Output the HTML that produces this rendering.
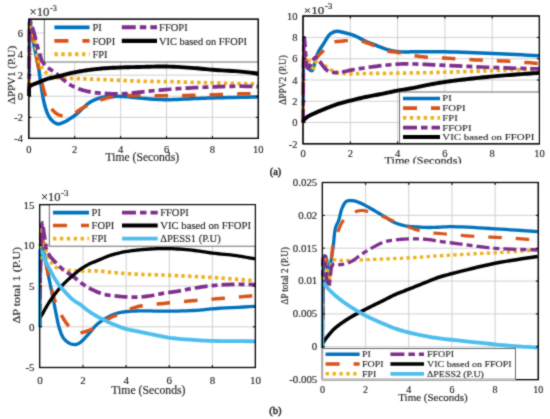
<!DOCTYPE html>
<html><head><meta charset="utf-8"><style>
html,body{margin:0;padding:0;background:#fff;}
body{width:550px;height:419px;overflow:hidden;}
svg{display:block;}
text{font-family:"Liberation Serif",serif;fill:#262626;stroke:#262626;stroke-width:0.15px;}
</style></head><body>
<svg width="550" height="419" viewBox="0 0 550 419">
<defs><filter id="bl" x="0" y="0" width="550" height="419" filterUnits="userSpaceOnUse" color-interpolation-filters="sRGB"><feConvolveMatrix order="3" kernelMatrix="1 2 1 2 12 2 1 2 1" divisor="24" edgeMode="duplicate"/></filter><clipPath id="cA"><rect x="27.3" y="17.7" width="232.5" height="122.2"/></clipPath><clipPath id="cB"><rect x="301.5" y="14.5" width="239.39999999999998" height="130.8"/></clipPath><clipPath id="cC"><rect x="38.1" y="203.1" width="218.8" height="165.9"/></clipPath><clipPath id="cD"><rect x="320.9" y="181.0" width="218.89999999999998" height="200.10000000000002"/></clipPath></defs>
<g filter="url(#bl)">
<rect width="550" height="419" fill="#fff"/>
<line x1="74.70" y1="19.2" x2="74.70" y2="138.4" stroke="#d0d0d0" stroke-width="1"/>
<line x1="120.60" y1="19.2" x2="120.60" y2="138.4" stroke="#d0d0d0" stroke-width="1"/>
<line x1="166.50" y1="19.2" x2="166.50" y2="138.4" stroke="#d0d0d0" stroke-width="1"/>
<line x1="212.40" y1="19.2" x2="212.40" y2="138.4" stroke="#d0d0d0" stroke-width="1"/>
<line x1="28.8" y1="117.32" x2="258.3" y2="117.32" stroke="#d0d0d0" stroke-width="1"/>
<line x1="28.8" y1="96.24" x2="258.3" y2="96.24" stroke="#d0d0d0" stroke-width="1"/>
<line x1="28.8" y1="75.16" x2="258.3" y2="75.16" stroke="#d0d0d0" stroke-width="1"/>
<line x1="28.8" y1="54.08" x2="258.3" y2="54.08" stroke="#d0d0d0" stroke-width="1"/>
<line x1="28.8" y1="33.00" x2="258.3" y2="33.00" stroke="#d0d0d0" stroke-width="1"/>
<path d="M29.00,96.00 L29.04,91.51 L29.07,87.04 L29.10,82.57 L29.14,78.10 L29.17,73.62 L29.21,69.12 L29.25,64.58 L29.30,60.00 L29.33,54.61 L29.33,48.41 L29.32,41.87 L29.32,35.45 L29.35,29.63 L29.43,24.89 L29.57,21.69 L29.80,20.50 L29.92,20.67 L30.06,21.15 L30.20,21.87 L30.35,22.79 L30.51,23.82 L30.67,24.91 L30.84,25.99 L31.00,27.00 L31.23,28.41 L31.46,29.92 L31.69,31.52 L31.93,33.18 L32.18,34.89 L32.44,36.61 L32.71,38.32 L33.00,40.00 L33.32,41.76 L33.67,43.53 L34.03,45.32 L34.41,47.11 L34.78,48.91 L35.16,50.71 L35.54,52.51 L35.90,54.30 L36.26,56.10 L36.63,57.91 L37.00,59.73 L37.37,61.55 L37.73,63.35 L38.08,65.13 L38.40,66.89 L38.70,68.60 L38.94,70.09 L39.16,71.55 L39.36,73.00 L39.55,74.42 L39.74,75.83 L39.92,77.23 L40.11,78.62 L40.30,80.00 L40.49,81.28 L40.67,82.55 L40.86,83.81 L41.04,85.06 L41.23,86.30 L41.42,87.53 L41.61,88.77 L41.80,90.00 L41.99,91.21 L42.18,92.42 L42.37,93.63 L42.56,94.83 L42.76,96.03 L42.96,97.21 L43.17,98.37 L43.40,99.50 L43.61,100.51 L43.82,101.49 L44.04,102.46 L44.27,103.42 L44.51,104.36 L44.75,105.31 L45.02,106.25 L45.30,107.20 L45.60,108.17 L45.90,109.15 L46.22,110.13 L46.55,111.10 L46.90,112.07 L47.28,113.01 L47.67,113.92 L48.10,114.80 L48.51,115.59 L48.94,116.37 L49.39,117.13 L49.85,117.87 L50.34,118.58 L50.86,119.26 L51.41,119.90 L52.00,120.50 L52.62,121.06 L53.29,121.62 L53.99,122.16 L54.71,122.66 L55.45,123.10 L56.21,123.46 L56.96,123.74 L57.70,123.90 L58.40,123.94 L59.10,123.89 L59.81,123.75 L60.52,123.54 L61.24,123.29 L61.96,123.00 L62.68,122.70 L63.40,122.40 L64.23,122.04 L65.07,121.62 L65.91,121.17 L66.75,120.69 L67.59,120.18 L68.43,119.65 L69.27,119.13 L70.10,118.60 L70.95,118.06 L71.80,117.51 L72.66,116.94 L73.50,116.37 L74.34,115.77 L75.17,115.17 L75.99,114.54 L76.80,113.90 L77.60,113.21 L78.38,112.50 L79.14,111.76 L79.89,111.01 L80.64,110.25 L81.41,109.49 L82.19,108.74 L83.00,108.00 L83.88,107.22 L84.76,106.42 L85.64,105.61 L86.55,104.81 L87.48,104.03 L88.44,103.28 L89.45,102.57 L90.50,101.90 L91.73,101.21 L93.02,100.55 L94.37,99.92 L95.75,99.33 L97.16,98.79 L98.58,98.30 L100.00,97.87 L101.40,97.50 L102.74,97.22 L104.10,97.00 L105.46,96.85 L106.83,96.74 L108.19,96.66 L109.56,96.60 L110.93,96.56 L112.30,96.50 L113.64,96.44 L114.94,96.40 L116.22,96.37 L117.52,96.36 L118.84,96.37 L120.21,96.39 L121.66,96.43 L123.20,96.50 L125.57,96.65 L128.13,96.88 L130.83,97.15 L133.64,97.46 L136.50,97.78 L139.38,98.09 L142.23,98.37 L145.00,98.60 L147.68,98.80 L150.34,98.99 L152.98,99.17 L155.63,99.33 L158.30,99.47 L161.01,99.58 L163.77,99.66 L166.60,99.70 L169.96,99.68 L173.46,99.59 L177.06,99.46 L180.70,99.29 L184.32,99.10 L187.86,98.92 L191.27,98.74 L194.50,98.60 L196.90,98.50 L199.13,98.41 L201.25,98.32 L203.33,98.24 L205.45,98.15 L207.67,98.07 L210.06,97.98 L212.70,97.90 L217.37,97.77 L222.56,97.64 L228.14,97.52 L233.99,97.39 L240.00,97.27 L246.05,97.15 L252.02,97.02 L257.80,96.90" fill="none" stroke="#0072BD" stroke-width="3.5" stroke-linejoin="round" stroke-linecap="butt" clip-path="url(#cA)"/>
<path d="M29.00,96.00 L29.06,88.79 L29.10,81.29 L29.15,73.67 L29.19,66.11 L29.25,58.78 L29.31,51.87 L29.39,45.55 L29.50,40.00 L29.56,36.96 L29.61,33.81 L29.66,30.72 L29.72,27.83 L29.79,25.31 L29.89,23.31 L30.02,21.99 L30.20,21.50 L30.33,21.67 L30.48,22.14 L30.64,22.86 L30.81,23.77 L30.98,24.80 L31.16,25.89 L31.33,26.98 L31.50,28.00 L31.74,29.51 L31.99,31.19 L32.24,32.98 L32.49,34.84 L32.74,36.72 L32.99,38.57 L33.25,40.34 L33.50,42.00 L33.71,43.28 L33.91,44.50 L34.12,45.69 L34.33,46.85 L34.54,48.00 L34.75,49.15 L34.97,50.31 L35.20,51.50 L35.45,52.74 L35.70,53.98 L35.96,55.22 L36.22,56.47 L36.49,57.72 L36.76,58.98 L37.03,60.24 L37.30,61.50 L37.57,62.81 L37.85,64.13 L38.12,65.45 L38.40,66.79 L38.68,68.11 L38.95,69.43 L39.23,70.73 L39.50,72.00 L39.75,73.16 L40.00,74.31 L40.25,75.45 L40.50,76.58 L40.74,77.70 L40.99,78.81 L41.24,79.91 L41.50,81.00 L41.74,82.03 L41.99,83.05 L42.24,84.06 L42.49,85.07 L42.74,86.06 L42.99,87.05 L43.24,88.03 L43.50,89.00 L43.74,89.91 L43.99,90.81 L44.24,91.72 L44.49,92.61 L44.75,93.49 L45.00,94.35 L45.25,95.19 L45.50,96.00 L45.71,96.67 L45.92,97.32 L46.12,97.96 L46.33,98.58 L46.54,99.20 L46.75,99.80 L46.97,100.40 L47.20,101.00 L47.41,101.56 L47.62,102.10 L47.83,102.64 L48.05,103.17 L48.28,103.70 L48.53,104.23 L48.80,104.76 L49.10,105.30 L49.49,105.95 L49.91,106.61 L50.37,107.28 L50.85,107.96 L51.35,108.62 L51.88,109.27 L52.43,109.90 L53.00,110.50 L53.62,111.11 L54.26,111.73 L54.94,112.33 L55.63,112.92 L56.35,113.47 L57.09,113.97 L57.84,114.42 L58.60,114.80 L59.35,115.10 L60.11,115.35 L60.90,115.56 L61.69,115.71 L62.51,115.83 L63.33,115.92 L64.16,115.97 L65.00,116.00 L65.95,116.00 L66.94,115.97 L67.95,115.91 L68.97,115.80 L69.98,115.64 L70.98,115.42 L71.96,115.15 L72.90,114.80 L73.83,114.33 L74.72,113.75 L75.57,113.09 L76.41,112.37 L77.26,111.63 L78.12,110.88 L79.03,110.16 L80.00,109.50 L81.19,108.78 L82.44,108.07 L83.74,107.38 L85.07,106.69 L86.42,106.02 L87.79,105.36 L89.15,104.72 L90.50,104.10 L91.84,103.49 L93.19,102.89 L94.55,102.31 L95.91,101.74 L97.28,101.19 L98.65,100.67 L100.02,100.17 L101.40,99.70 L102.72,99.27 L104.02,98.86 L105.30,98.48 L106.59,98.12 L107.91,97.78 L109.29,97.46 L110.75,97.17 L112.30,96.90 L114.64,96.57 L117.15,96.29 L119.80,96.05 L122.56,95.86 L125.39,95.71 L128.27,95.58 L131.15,95.48 L134.00,95.40 L137.09,95.35 L140.23,95.37 L143.41,95.43 L146.61,95.52 L149.85,95.61 L153.09,95.71 L156.35,95.77 L159.60,95.80 L162.97,95.79 L166.35,95.76 L169.75,95.72 L173.16,95.67 L176.58,95.61 L180.02,95.54 L183.46,95.47 L186.90,95.40 L190.43,95.33 L193.98,95.25 L197.54,95.17 L201.10,95.08 L204.67,94.99 L208.23,94.90 L211.78,94.80 L215.30,94.70 L218.78,94.59 L222.32,94.47 L225.88,94.33 L229.42,94.20 L232.89,94.07 L236.26,93.96 L239.48,93.86 L242.50,93.80 L244.62,93.77 L246.63,93.76 L248.56,93.76 L250.42,93.76 L252.25,93.77 L254.08,93.79 L255.92,93.80 L257.80,93.80" fill="none" stroke="#D95319" stroke-width="3.5" stroke-dasharray="13.5 14" stroke-linejoin="round" stroke-linecap="butt" clip-path="url(#cA)"/>
<path d="M29.00,96.00 L29.06,88.79 L29.10,81.29 L29.15,73.67 L29.19,66.11 L29.25,58.78 L29.31,51.87 L29.39,45.55 L29.50,40.00 L29.55,36.96 L29.58,33.82 L29.60,30.73 L29.63,27.85 L29.69,25.34 L29.79,23.33 L29.96,22.00 L30.20,21.50 L30.38,21.63 L30.58,22.04 L30.81,22.65 L31.05,23.43 L31.30,24.31 L31.54,25.24 L31.78,26.15 L32.00,27.00 L32.27,28.10 L32.54,29.26 L32.79,30.48 L33.04,31.75 L33.28,33.05 L33.52,34.36 L33.76,35.68 L34.00,37.00 L34.26,38.46 L34.51,39.95 L34.75,41.48 L35.00,43.02 L35.24,44.55 L35.49,46.07 L35.74,47.56 L36.00,49.00 L36.23,50.25 L36.44,51.48 L36.65,52.69 L36.86,53.88 L37.09,55.06 L37.35,56.23 L37.65,57.41 L38.00,58.60 L38.42,59.89 L38.88,61.22 L39.38,62.57 L39.91,63.90 L40.47,65.20 L41.06,66.44 L41.67,67.58 L42.30,68.60 L42.79,69.29 L43.30,69.92 L43.83,70.51 L44.37,71.05 L44.92,71.57 L45.47,72.06 L46.04,72.54 L46.60,73.00 L47.11,73.41 L47.60,73.80 L48.10,74.18 L48.61,74.53 L49.13,74.87 L49.68,75.20 L50.27,75.50 L50.90,75.80 L51.81,76.17 L52.78,76.51 L53.82,76.82 L54.90,77.11 L56.03,77.38 L57.17,77.61 L58.33,77.82 L59.50,78.00 L60.84,78.16 L62.22,78.26 L63.62,78.31 L65.06,78.34 L66.52,78.35 L67.99,78.35 L69.49,78.36 L71.00,78.40 L72.68,78.46 L74.36,78.52 L76.05,78.57 L77.77,78.63 L79.54,78.69 L81.37,78.76 L83.29,78.83 L85.30,78.90 L88.27,79.01 L91.44,79.14 L94.79,79.27 L98.25,79.41 L101.78,79.56 L105.33,79.71 L108.85,79.86 L112.30,80.00 L115.75,80.15 L119.21,80.31 L122.69,80.48 L126.16,80.64 L129.64,80.80 L133.11,80.95 L136.56,81.09 L140.00,81.20 L143.30,81.28 L146.52,81.34 L149.69,81.38 L152.88,81.42 L156.12,81.45 L159.45,81.48 L162.93,81.53 L166.60,81.60 L171.76,81.72 L177.25,81.87 L182.99,82.03 L188.89,82.21 L194.90,82.39 L200.92,82.57 L206.88,82.74 L212.70,82.90 L218.36,83.05 L224.01,83.19 L229.65,83.33 L235.28,83.46 L240.91,83.60 L246.54,83.73 L252.17,83.86 L257.80,84.00" fill="none" stroke="#EDB120" stroke-width="3.7" stroke-dasharray="3.4 3.3" stroke-linejoin="round" stroke-linecap="butt" clip-path="url(#cA)"/>
<path d="M29.00,96.00 L29.03,90.18 L29.06,84.24 L29.08,78.27 L29.11,72.31 L29.14,66.45 L29.18,60.73 L29.23,55.23 L29.30,50.00 L29.33,45.73 L29.33,41.09 L29.31,36.36 L29.31,31.84 L29.35,27.80 L29.46,24.54 L29.67,22.35 L30.00,21.50 L30.16,21.57 L30.33,21.83 L30.51,22.22 L30.71,22.72 L30.90,23.29 L31.11,23.88 L31.31,24.46 L31.50,25.00 L31.75,25.66 L32.00,26.35 L32.25,27.07 L32.50,27.82 L32.75,28.58 L33.00,29.37 L33.25,30.18 L33.50,31.00 L33.80,32.04 L34.11,33.12 L34.41,34.24 L34.72,35.39 L35.02,36.56 L35.32,37.72 L35.61,38.87 L35.90,40.00 L36.17,41.09 L36.43,42.18 L36.69,43.27 L36.95,44.36 L37.20,45.44 L37.46,46.51 L37.72,47.57 L38.00,48.60 L38.26,49.54 L38.53,50.47 L38.80,51.39 L39.08,52.30 L39.35,53.20 L39.63,54.08 L39.92,54.95 L40.20,55.80 L40.44,56.55 L40.67,57.30 L40.89,58.03 L41.12,58.75 L41.36,59.46 L41.63,60.15 L41.94,60.83 L42.30,61.50 L42.73,62.18 L43.20,62.84 L43.70,63.48 L44.24,64.11 L44.81,64.73 L45.39,65.33 L45.99,65.92 L46.60,66.50 L47.25,67.08 L47.94,67.64 L48.64,68.18 L49.37,68.71 L50.10,69.23 L50.84,69.75 L51.58,70.27 L52.30,70.80 L53.02,71.33 L53.75,71.86 L54.48,72.39 L55.21,72.92 L55.94,73.45 L56.66,73.99 L57.39,74.54 L58.10,75.10 L58.82,75.70 L59.54,76.32 L60.25,76.96 L60.95,77.60 L61.66,78.24 L62.37,78.88 L63.08,79.50 L63.80,80.10 L64.50,80.67 L65.19,81.23 L65.88,81.79 L66.57,82.34 L67.28,82.88 L68.00,83.40 L68.74,83.91 L69.50,84.40 L70.34,84.90 L71.20,85.39 L72.07,85.86 L72.97,86.32 L73.88,86.76 L74.81,87.19 L75.75,87.60 L76.70,88.00 L77.72,88.41 L78.76,88.80 L79.82,89.17 L80.90,89.53 L81.98,89.87 L83.08,90.20 L84.19,90.51 L85.30,90.80 L86.49,91.09 L87.72,91.36 L88.97,91.61 L90.23,91.84 L91.47,92.06 L92.70,92.26 L93.88,92.44 L95.00,92.60 L95.85,92.71 L96.65,92.81 L97.42,92.89 L98.17,92.96 L98.93,93.02 L99.71,93.08 L100.53,93.14 L101.40,93.20 L102.62,93.29 L103.92,93.38 L105.27,93.47 L106.67,93.55 L108.08,93.63 L109.51,93.70 L110.92,93.76 L112.30,93.80 L113.65,93.84 L114.97,93.87 L116.29,93.90 L117.60,93.91 L118.94,93.92 L120.31,93.90 L121.73,93.86 L123.20,93.80 L125.10,93.68 L127.06,93.52 L129.07,93.31 L131.14,93.09 L133.26,92.84 L135.45,92.59 L137.69,92.34 L140.00,92.10 L143.03,91.79 L146.21,91.47 L149.50,91.13 L152.88,90.78 L156.31,90.44 L159.76,90.10 L163.20,89.79 L166.60,89.50 L170.09,89.23 L173.66,88.97 L177.27,88.72 L180.88,88.49 L184.44,88.27 L187.93,88.07 L191.29,87.88 L194.50,87.70 L196.94,87.57 L199.25,87.45 L201.47,87.35 L203.65,87.25 L205.82,87.16 L208.02,87.07 L210.30,86.99 L212.70,86.90 L215.70,86.79 L218.85,86.68 L222.09,86.56 L225.39,86.46 L228.69,86.36 L231.96,86.28 L235.14,86.23 L238.20,86.20 L240.77,86.20 L243.28,86.23 L245.74,86.28 L248.16,86.34 L250.56,86.41 L252.96,86.48 L255.37,86.54 L257.80,86.60" fill="none" stroke="#7E2F8E" stroke-width="3.7" stroke-dasharray="13 4 6 4" stroke-linejoin="round" stroke-linecap="butt" clip-path="url(#cA)"/>
<path d="M29.00,96.00 L29.00,94.95 L28.99,93.84 L28.97,92.71 L28.96,91.58 L28.95,90.51 L28.97,89.53 L29.02,88.68 L29.10,88.00 L29.14,87.77 L29.18,87.56 L29.21,87.38 L29.26,87.21 L29.31,87.06 L29.38,86.91 L29.48,86.76 L29.60,86.60 L29.86,86.33 L30.19,86.08 L30.57,85.83 L31.01,85.58 L31.47,85.34 L31.97,85.10 L32.48,84.85 L33.00,84.60 L33.79,84.23 L34.67,83.86 L35.61,83.48 L36.59,83.10 L37.59,82.72 L38.59,82.34 L39.57,81.97 L40.50,81.60 L41.33,81.26 L42.14,80.92 L42.93,80.58 L43.72,80.24 L44.52,79.91 L45.32,79.59 L46.15,79.28 L47.00,79.00 L47.95,78.72 L48.92,78.47 L49.91,78.24 L50.91,78.02 L51.93,77.80 L52.97,77.59 L54.02,77.35 L55.10,77.10 L56.41,76.77 L57.81,76.42 L59.25,76.04 L60.71,75.66 L62.15,75.29 L63.53,74.93 L64.83,74.60 L66.00,74.30 L66.71,74.12 L67.36,73.96 L67.98,73.81 L68.56,73.66 L69.14,73.52 L69.73,73.39 L70.34,73.25 L71.00,73.10 L71.82,72.92 L72.66,72.75 L73.52,72.57 L74.40,72.40 L75.29,72.22 L76.21,72.05 L77.15,71.87 L78.10,71.70 L79.25,71.50 L80.43,71.29 L81.65,71.08 L82.88,70.88 L84.14,70.68 L85.42,70.48 L86.70,70.28 L88.00,70.10 L89.44,69.90 L90.91,69.71 L92.41,69.53 L93.92,69.35 L95.44,69.17 L96.96,69.01 L98.48,68.85 L100.00,68.70 L101.51,68.56 L102.98,68.43 L104.45,68.31 L105.92,68.20 L107.42,68.09 L108.98,67.99 L110.59,67.89 L112.30,67.80 L114.74,67.68 L117.37,67.58 L120.13,67.49 L122.97,67.40 L125.83,67.32 L128.66,67.24 L131.40,67.17 L134.00,67.10 L136.11,67.04 L138.16,66.98 L140.17,66.93 L142.13,66.88 L144.09,66.83 L146.04,66.78 L148.00,66.74 L150.00,66.70 L152.03,66.66 L154.03,66.61 L156.01,66.55 L158.01,66.51 L160.05,66.47 L162.14,66.46 L164.32,66.46 L166.60,66.50 L169.78,66.60 L173.21,66.74 L176.80,66.92 L180.47,67.13 L184.16,67.37 L187.78,67.61 L191.25,67.86 L194.50,68.10 L196.94,68.30 L199.25,68.51 L201.48,68.72 L203.65,68.95 L205.82,69.17 L208.02,69.39 L210.30,69.60 L212.70,69.80 L215.70,70.02 L218.85,70.21 L222.10,70.40 L225.39,70.58 L228.70,70.76 L231.96,70.95 L235.15,71.16 L238.20,71.40 L240.78,71.63 L243.28,71.88 L245.74,72.14 L248.16,72.41 L250.56,72.68 L252.96,72.96 L255.37,73.23 L257.80,73.50" fill="none" stroke="#000000" stroke-width="3.9" stroke-linejoin="round" stroke-linecap="butt" clip-path="url(#cA)"/>
<rect x="28.8" y="19.2" width="229.5" height="119.2" fill="none" stroke="#000000" stroke-width="1.15"/>
<line x1="74.70" y1="138.4" x2="74.70" y2="135.9" stroke="#000000" stroke-width="1"/>
<line x1="74.70" y1="19.2" x2="74.70" y2="21.7" stroke="#000000" stroke-width="1"/>
<line x1="120.60" y1="138.4" x2="120.60" y2="135.9" stroke="#000000" stroke-width="1"/>
<line x1="120.60" y1="19.2" x2="120.60" y2="21.7" stroke="#000000" stroke-width="1"/>
<line x1="166.50" y1="138.4" x2="166.50" y2="135.9" stroke="#000000" stroke-width="1"/>
<line x1="166.50" y1="19.2" x2="166.50" y2="21.7" stroke="#000000" stroke-width="1"/>
<line x1="212.40" y1="138.4" x2="212.40" y2="135.9" stroke="#000000" stroke-width="1"/>
<line x1="212.40" y1="19.2" x2="212.40" y2="21.7" stroke="#000000" stroke-width="1"/>
<line x1="28.8" y1="117.32" x2="31.3" y2="117.32" stroke="#000000" stroke-width="1"/>
<line x1="258.3" y1="117.32" x2="255.8" y2="117.32" stroke="#000000" stroke-width="1"/>
<line x1="28.8" y1="96.24" x2="31.3" y2="96.24" stroke="#000000" stroke-width="1"/>
<line x1="258.3" y1="96.24" x2="255.8" y2="96.24" stroke="#000000" stroke-width="1"/>
<line x1="28.8" y1="75.16" x2="31.3" y2="75.16" stroke="#000000" stroke-width="1"/>
<line x1="258.3" y1="75.16" x2="255.8" y2="75.16" stroke="#000000" stroke-width="1"/>
<line x1="28.8" y1="54.08" x2="31.3" y2="54.08" stroke="#000000" stroke-width="1"/>
<line x1="258.3" y1="54.08" x2="255.8" y2="54.08" stroke="#000000" stroke-width="1"/>
<line x1="28.8" y1="33.00" x2="31.3" y2="33.00" stroke="#000000" stroke-width="1"/>
<line x1="258.3" y1="33.00" x2="255.8" y2="33.00" stroke="#000000" stroke-width="1"/>
<rect x="44.3" y="19.3" width="213.7" height="42.7" fill="#fff" stroke="#5a5a5a" stroke-width="0.9"/>
<line x1="54.40" y1="27.30" x2="89.60" y2="27.30" stroke="#0072BD" stroke-width="3.7"/>
<line x1="54.40" y1="40.90" x2="89.60" y2="40.90" stroke="#D95319" stroke-width="3.7" stroke-dasharray="14 14"/>
<line x1="54.40" y1="54.30" x2="89.60" y2="54.30" stroke="#EDB120" stroke-width="3.9" stroke-dasharray="3.4 3.5"/>
<line x1="121.80" y1="27.30" x2="157.00" y2="27.30" stroke="#7E2F8E" stroke-width="3.9" stroke-dasharray="14 4 6.5 4"/>
<line x1="121.80" y1="40.90" x2="157.00" y2="40.90" stroke="#000000" stroke-width="4.1"/>
<text x="92.40" y="30.90" font-size="10.5" text-anchor="start" font-weight="normal">PI</text>
<text x="92.40" y="44.50" font-size="10.5" text-anchor="start" font-weight="normal">FOPI</text>
<text x="92.40" y="57.90" font-size="10.5" text-anchor="start" font-weight="normal">FPI</text>
<text x="159.10" y="30.90" font-size="10.5" text-anchor="start" font-weight="normal">FFOPI</text>
<text x="159.10" y="44.50" font-size="10.5" text-anchor="start" font-weight="normal" textLength="87.8" lengthAdjust="spacingAndGlyphs">VIC based on FFOPI</text>
<rect x="28.8" y="19.2" width="229.5" height="119.2" fill="none" stroke="#000000" stroke-width="1.15"/>
<text x="23.00" y="142.10" font-size="10.5" text-anchor="end" font-weight="normal">-4</text>
<text x="23.00" y="121.02" font-size="10.5" text-anchor="end" font-weight="normal">-2</text>
<text x="23.00" y="99.94" font-size="10.5" text-anchor="end" font-weight="normal">0</text>
<text x="23.00" y="78.86" font-size="10.5" text-anchor="end" font-weight="normal">2</text>
<text x="23.00" y="57.78" font-size="10.5" text-anchor="end" font-weight="normal">4</text>
<text x="23.00" y="36.70" font-size="10.5" text-anchor="end" font-weight="normal">6</text>
<text x="28.80" y="152.50" font-size="10.5" text-anchor="middle" font-weight="normal">0</text>
<text x="74.70" y="152.50" font-size="10.5" text-anchor="middle" font-weight="normal">2</text>
<text x="120.60" y="152.50" font-size="10.5" text-anchor="middle" font-weight="normal">4</text>
<text x="166.50" y="152.50" font-size="10.5" text-anchor="middle" font-weight="normal">6</text>
<text x="212.40" y="152.50" font-size="10.5" text-anchor="middle" font-weight="normal">8</text>
<text x="258.30" y="152.50" font-size="10.5" text-anchor="middle" font-weight="normal">10</text>
<text x="29.50" y="16.40" font-size="12" text-anchor="start" font-weight="normal" textLength="20" lengthAdjust="spacingAndGlyphs">&#215;10</text>
<text x="50.00" y="10.80" font-size="8.5" text-anchor="start" font-weight="normal" textLength="6.8" lengthAdjust="spacingAndGlyphs">-3</text>
<text x="142.30" y="161.30" font-size="11.5" text-anchor="middle" font-weight="normal" textLength="73.6" lengthAdjust="spacingAndGlyphs">Time (Seconds)</text>
<text transform="translate(15.3,75.0) rotate(-90)" font-size="10.3" text-anchor="middle" textLength="58.4" lengthAdjust="spacingAndGlyphs">&#916;PPV1 (P.U)</text>
<line x1="350.30" y1="16.0" x2="350.30" y2="143.8" stroke="#d0d0d0" stroke-width="1"/>
<line x1="397.60" y1="16.0" x2="397.60" y2="143.8" stroke="#d0d0d0" stroke-width="1"/>
<line x1="444.90" y1="16.0" x2="444.90" y2="143.8" stroke="#d0d0d0" stroke-width="1"/>
<line x1="492.20" y1="16.0" x2="492.20" y2="143.8" stroke="#d0d0d0" stroke-width="1"/>
<line x1="303" y1="122.53" x2="539.4" y2="122.53" stroke="#d0d0d0" stroke-width="1"/>
<line x1="303" y1="101.26" x2="539.4" y2="101.26" stroke="#d0d0d0" stroke-width="1"/>
<line x1="303" y1="79.99" x2="539.4" y2="79.99" stroke="#d0d0d0" stroke-width="1"/>
<line x1="303" y1="58.72" x2="539.4" y2="58.72" stroke="#d0d0d0" stroke-width="1"/>
<line x1="303" y1="37.45" x2="539.4" y2="37.45" stroke="#d0d0d0" stroke-width="1"/>
<path d="M303.00,122.50 L303.03,115.92 L303.03,108.97 L303.04,101.86 L303.04,94.82 L303.06,88.09 L303.10,81.90 L303.18,76.46 L303.30,72.00 L303.34,70.26 L303.36,68.54 L303.36,66.90 L303.38,65.39 L303.43,64.09 L303.54,63.06 L303.72,62.34 L304.00,62.00 L304.20,62.00 L304.42,62.11 L304.66,62.32 L304.92,62.61 L305.19,62.94 L305.47,63.30 L305.74,63.66 L306.00,64.00 L306.36,64.53 L306.71,65.15 L307.07,65.84 L307.42,66.55 L307.79,67.26 L308.17,67.92 L308.57,68.52 L309.00,69.00 L309.35,69.33 L309.73,69.66 L310.12,69.97 L310.52,70.24 L310.91,70.47 L311.30,70.61 L311.66,70.66 L312.00,70.60 L312.49,70.19 L312.92,69.44 L313.30,68.41 L313.65,67.19 L313.99,65.86 L314.31,64.50 L314.65,63.19 L315.00,62.00 L315.36,60.85 L315.70,59.69 L316.02,58.53 L316.35,57.35 L316.70,56.18 L317.08,55.01 L317.51,53.85 L318.00,52.70 L318.61,51.48 L319.29,50.26 L320.03,49.05 L320.81,47.84 L321.61,46.65 L322.42,45.46 L323.22,44.27 L324.00,43.10 L324.73,41.93 L325.45,40.70 L326.16,39.47 L326.88,38.25 L327.61,37.08 L328.37,35.99 L329.16,35.02 L330.00,34.20 L330.69,33.65 L331.40,33.15 L332.12,32.72 L332.87,32.34 L333.63,32.02 L334.40,31.75 L335.19,31.55 L336.00,31.40 L336.89,31.32 L337.79,31.34 L338.71,31.44 L339.65,31.60 L340.61,31.80 L341.59,32.03 L342.58,32.27 L343.60,32.50 L344.88,32.79 L346.20,33.11 L347.57,33.46 L348.96,33.84 L350.36,34.26 L351.75,34.71 L353.14,35.19 L354.50,35.70 L355.89,36.29 L357.27,36.95 L358.64,37.65 L360.01,38.38 L361.38,39.12 L362.75,39.85 L364.12,40.55 L365.50,41.20 L366.85,41.79 L368.21,42.36 L369.57,42.90 L370.94,43.43 L372.30,43.95 L373.67,44.47 L375.03,44.98 L376.40,45.50 L377.76,46.03 L379.12,46.56 L380.47,47.10 L381.83,47.63 L383.19,48.14 L384.56,48.63 L385.93,49.09 L387.30,49.50 L388.62,49.87 L389.92,50.21 L391.20,50.53 L392.49,50.82 L393.82,51.08 L395.20,51.32 L396.65,51.52 L398.20,51.70 L400.55,51.87 L403.08,51.95 L405.75,51.96 L408.52,51.92 L411.37,51.85 L414.26,51.78 L417.15,51.72 L420.00,51.70 L423.02,51.70 L426.01,51.70 L429.00,51.69 L432.04,51.68 L435.15,51.69 L438.37,51.71 L441.74,51.74 L445.30,51.80 L450.55,51.92 L456.19,52.09 L462.13,52.28 L468.27,52.50 L474.52,52.74 L480.79,52.99 L486.98,53.25 L493.00,53.50 L498.79,53.75 L504.56,54.01 L510.31,54.29 L516.05,54.57 L521.79,54.85 L527.52,55.14 L533.26,55.42 L539.00,55.70" fill="none" stroke="#0072BD" stroke-width="3.5" stroke-linejoin="round" stroke-linecap="butt" clip-path="url(#cB)"/>
<path d="M303.00,122.50 L303.03,115.68 L303.04,108.51 L303.04,101.18 L303.05,93.93 L303.07,86.97 L303.11,80.52 L303.19,74.79 L303.30,70.00 L303.34,67.95 L303.34,65.89 L303.33,63.92 L303.34,62.11 L303.38,60.54 L303.49,59.27 L303.69,58.40 L304.00,58.00 L304.20,58.00 L304.44,58.13 L304.69,58.36 L304.96,58.65 L305.24,58.99 L305.51,59.35 L305.77,59.69 L306.00,60.00 L306.21,60.29 L306.40,60.58 L306.58,60.89 L306.75,61.20 L306.92,61.52 L307.10,61.84 L307.29,62.17 L307.50,62.50 L307.78,62.96 L308.07,63.50 L308.37,64.08 L308.69,64.65 L309.01,65.17 L309.34,65.60 L309.67,65.89 L310.00,66.00 L310.35,65.89 L310.70,65.59 L311.05,65.13 L311.41,64.57 L311.77,63.93 L312.16,63.26 L312.57,62.60 L313.00,62.00 L313.65,61.20 L314.35,60.34 L315.10,59.45 L315.88,58.53 L316.68,57.60 L317.47,56.70 L318.25,55.82 L319.00,55.00 L319.64,54.33 L320.28,53.69 L320.91,53.07 L321.54,52.47 L322.17,51.87 L322.79,51.27 L323.40,50.65 L324.00,50.00 L324.59,49.29 L325.15,48.54 L325.69,47.76 L326.24,46.98 L326.79,46.22 L327.36,45.51 L327.96,44.86 L328.60,44.30 L329.21,43.88 L329.84,43.50 L330.49,43.18 L331.15,42.89 L331.84,42.64 L332.54,42.41 L333.26,42.20 L334.00,42.00 L334.85,41.81 L335.72,41.67 L336.61,41.56 L337.53,41.48 L338.47,41.42 L339.45,41.36 L340.45,41.29 L341.50,41.20 L342.96,41.04 L344.53,40.84 L346.17,40.63 L347.85,40.43 L349.55,40.25 L351.25,40.12 L352.91,40.07 L354.50,40.10 L355.93,40.21 L357.33,40.39 L358.71,40.61 L360.08,40.88 L361.44,41.19 L362.80,41.54 L364.15,41.91 L365.50,42.30 L366.88,42.74 L368.25,43.23 L369.61,43.76 L370.97,44.31 L372.33,44.89 L373.68,45.47 L375.04,46.04 L376.40,46.60 L377.76,47.17 L379.12,47.76 L380.47,48.37 L381.83,48.98 L383.19,49.56 L384.55,50.10 L385.92,50.59 L387.30,51.00 L388.62,51.31 L389.91,51.54 L391.20,51.71 L392.50,51.85 L393.83,51.98 L395.21,52.11 L396.66,52.28 L398.20,52.50 L400.55,52.91 L403.06,53.40 L405.70,53.94 L408.45,54.50 L411.29,55.07 L414.17,55.61 L417.09,56.09 L420.00,56.50 L423.32,56.86 L426.74,57.16 L430.22,57.39 L433.75,57.59 L437.32,57.77 L440.90,57.93 L444.46,58.10 L448.00,58.30 L451.55,58.51 L455.11,58.72 L458.67,58.93 L462.24,59.14 L465.81,59.34 L469.38,59.53 L472.94,59.72 L476.50,59.90 L480.02,60.06 L483.52,60.21 L487.00,60.34 L490.49,60.47 L494.00,60.60 L497.54,60.74 L501.14,60.91 L504.80,61.10 L508.92,61.35 L513.12,61.62 L517.39,61.92 L521.70,62.23 L526.03,62.55 L530.37,62.87 L534.70,63.19 L539.00,63.50" fill="none" stroke="#D95319" stroke-width="3.5" stroke-dasharray="13.5 14" stroke-linejoin="round" stroke-linecap="butt" clip-path="url(#cB)"/>
<path d="M303.00,122.50 L303.03,115.68 L303.06,108.48 L303.09,101.13 L303.12,93.86 L303.15,86.89 L303.19,80.44 L303.24,74.73 L303.30,70.00 L303.31,68.13 L303.31,66.41 L303.29,64.83 L303.28,63.37 L303.29,62.03 L303.34,60.79 L303.43,59.65 L303.60,58.60 L303.72,58.01 L303.85,57.42 L303.99,56.85 L304.15,56.32 L304.32,55.85 L304.52,55.47 L304.75,55.17 L305.00,55.00 L305.23,54.95 L305.49,54.95 L305.78,55.02 L306.07,55.14 L306.37,55.30 L306.66,55.50 L306.94,55.74 L307.20,56.00 L307.65,56.69 L308.05,57.65 L308.41,58.79 L308.75,60.05 L309.06,61.37 L309.37,62.68 L309.68,63.92 L310.00,65.00 L310.25,65.84 L310.50,66.76 L310.73,67.69 L310.97,68.58 L311.21,69.37 L311.45,70.01 L311.72,70.44 L312.00,70.60 L312.38,70.31 L312.77,69.51 L313.19,68.36 L313.62,66.97 L314.07,65.51 L314.53,64.10 L315.01,62.88 L315.50,62.00 L315.79,61.61 L316.09,61.24 L316.39,60.90 L316.70,60.59 L317.02,60.34 L317.34,60.14 L317.66,60.03 L318.00,60.00 L318.46,60.15 L318.95,60.51 L319.45,61.03 L319.96,61.64 L320.48,62.31 L321.00,62.96 L321.50,63.54 L322.00,64.00 L322.37,64.27 L322.72,64.51 L323.07,64.72 L323.42,64.91 L323.77,65.10 L324.15,65.30 L324.56,65.53 L325.00,65.80 L325.84,66.35 L326.77,67.01 L327.78,67.74 L328.84,68.51 L329.95,69.27 L331.09,70.00 L332.25,70.65 L333.40,71.20 L334.57,71.66 L335.74,72.05 L336.93,72.38 L338.15,72.67 L339.41,72.92 L340.73,73.13 L342.12,73.32 L343.60,73.50 L345.87,73.69 L348.27,73.78 L350.81,73.80 L353.47,73.77 L356.27,73.70 L359.21,73.61 L362.28,73.54 L365.50,73.50 L370.82,73.46 L376.76,73.41 L383.14,73.34 L389.76,73.27 L396.45,73.18 L403.01,73.09 L409.25,73.00 L415.00,72.90 L419.09,72.83 L422.94,72.75 L426.60,72.67 L430.19,72.59 L433.76,72.51 L437.42,72.42 L441.24,72.31 L445.30,72.20 L450.75,72.04 L456.49,71.86 L462.44,71.66 L468.53,71.46 L474.70,71.24 L480.88,71.03 L487.01,70.81 L493.00,70.60 L498.79,70.39 L504.56,70.18 L510.31,69.97 L516.05,69.76 L521.79,69.54 L527.52,69.33 L533.26,69.11 L539.00,68.90" fill="none" stroke="#EDB120" stroke-width="3.7" stroke-dasharray="3.4 3.3" stroke-linejoin="round" stroke-linecap="butt" clip-path="url(#cB)"/>
<path d="M303.00,122.50 L303.06,114.47 L303.11,106.13 L303.15,97.67 L303.20,89.27 L303.25,81.12 L303.32,73.40 L303.40,66.30 L303.50,60.00 L303.57,56.38 L303.63,52.62 L303.70,48.90 L303.78,45.43 L303.86,42.39 L303.96,39.97 L304.07,38.38 L304.20,37.80 L304.29,37.99 L304.38,38.52 L304.48,39.33 L304.59,40.33 L304.69,41.47 L304.80,42.68 L304.90,43.88 L305.00,45.00 L305.12,46.65 L305.22,48.47 L305.30,50.43 L305.39,52.45 L305.49,54.47 L305.62,56.45 L305.78,58.31 L306.00,60.00 L306.18,61.25 L306.38,62.59 L306.58,63.94 L306.80,65.21 L307.05,66.35 L307.33,67.28 L307.64,67.92 L308.00,68.20 L308.31,68.13 L308.65,67.83 L309.01,67.35 L309.39,66.74 L309.78,66.06 L310.18,65.34 L310.59,64.64 L311.00,64.00 L311.52,63.16 L312.05,62.17 L312.60,61.09 L313.16,60.02 L313.74,59.04 L314.32,58.22 L314.91,57.64 L315.50,57.40 L316.04,57.49 L316.57,57.81 L317.12,58.32 L317.67,58.98 L318.23,59.72 L318.80,60.50 L319.39,61.28 L320.00,62.00 L320.83,62.98 L321.68,64.11 L322.55,65.31 L323.44,66.54 L324.37,67.74 L325.34,68.86 L326.34,69.83 L327.40,70.60 L328.36,71.12 L329.34,71.55 L330.34,71.88 L331.37,72.14 L332.45,72.33 L333.57,72.46 L334.75,72.55 L336.00,72.60 L337.96,72.55 L340.09,72.32 L342.35,71.95 L344.71,71.49 L347.13,70.97 L349.60,70.43 L352.06,69.93 L354.50,69.50 L357.15,69.08 L359.84,68.66 L362.57,68.24 L365.33,67.83 L368.10,67.42 L370.88,67.03 L373.65,66.65 L376.40,66.30 L379.14,65.96 L381.91,65.63 L384.70,65.31 L387.47,65.00 L390.23,64.72 L392.95,64.47 L395.61,64.26 L398.20,64.10 L400.37,64.00 L402.44,63.93 L404.44,63.89 L406.43,63.88 L408.43,63.89 L410.51,63.92 L412.68,63.95 L415.00,64.00 L418.32,64.09 L421.79,64.22 L425.41,64.39 L429.17,64.57 L433.05,64.78 L437.04,64.99 L441.12,65.20 L445.30,65.40 L450.75,65.65 L456.49,65.91 L462.44,66.19 L468.53,66.47 L474.70,66.75 L480.88,67.01 L487.00,67.27 L493.00,67.50 L498.79,67.71 L504.56,67.90 L510.31,68.07 L516.05,68.24 L521.79,68.40 L527.52,68.57 L533.26,68.73 L539.00,68.90" fill="none" stroke="#7E2F8E" stroke-width="3.7" stroke-dasharray="13 4 6 4" stroke-linejoin="round" stroke-linecap="butt" clip-path="url(#cB)"/>
<path d="M303.00,122.50 L303.02,122.32 L303.02,122.13 L303.02,121.96 L303.02,121.78 L303.03,121.59 L303.06,121.40 L303.11,121.21 L303.20,121.00 L303.46,120.55 L303.84,120.06 L304.30,119.53 L304.83,118.99 L305.41,118.43 L306.03,117.89 L306.67,117.38 L307.30,116.90 L308.08,116.38 L308.92,115.90 L309.81,115.44 L310.73,114.99 L311.68,114.56 L312.63,114.14 L313.58,113.72 L314.50,113.30 L315.41,112.88 L316.31,112.47 L317.23,112.06 L318.14,111.66 L319.05,111.26 L319.97,110.87 L320.88,110.48 L321.80,110.10 L322.71,109.72 L323.62,109.35 L324.53,108.98 L325.44,108.62 L326.36,108.26 L327.27,107.91 L328.19,107.55 L329.10,107.20 L330.01,106.85 L330.92,106.50 L331.83,106.15 L332.75,105.80 L333.66,105.46 L334.57,105.13 L335.49,104.81 L336.40,104.50 L337.30,104.21 L338.20,103.93 L339.09,103.66 L339.99,103.40 L340.89,103.15 L341.79,102.90 L342.70,102.65 L343.60,102.40 L344.51,102.15 L345.42,101.91 L346.33,101.67 L347.24,101.43 L348.16,101.20 L349.07,100.96 L349.99,100.73 L350.90,100.50 L351.81,100.27 L352.72,100.04 L353.64,99.81 L354.55,99.59 L355.46,99.36 L356.37,99.14 L357.29,98.92 L358.20,98.70 L359.11,98.48 L360.00,98.27 L360.89,98.05 L361.79,97.84 L362.69,97.63 L363.60,97.42 L364.54,97.21 L365.50,97.00 L366.63,96.77 L367.78,96.54 L368.97,96.32 L370.17,96.10 L371.38,95.88 L372.60,95.65 L373.80,95.43 L375.00,95.20 L376.18,94.97 L377.34,94.74 L378.50,94.51 L379.66,94.28 L380.83,94.04 L382.02,93.80 L383.24,93.56 L384.50,93.30 L386.03,92.99 L387.59,92.66 L389.19,92.32 L390.82,91.97 L392.48,91.62 L394.17,91.27 L395.88,90.93 L397.60,90.60 L399.57,90.24 L401.60,89.89 L403.67,89.55 L405.76,89.21 L407.86,88.87 L409.94,88.52 L412.00,88.17 L414.00,87.80 L415.81,87.44 L417.58,87.07 L419.31,86.69 L421.04,86.31 L422.77,85.93 L424.53,85.54 L426.33,85.17 L428.20,84.80 L430.42,84.38 L432.69,83.97 L435.00,83.55 L437.36,83.14 L439.75,82.74 L442.18,82.35 L444.63,81.97 L447.10,81.60 L449.85,81.21 L452.66,80.84 L455.52,80.48 L458.40,80.13 L461.31,79.79 L464.22,79.45 L467.12,79.13 L470.00,78.80 L472.87,78.48 L475.74,78.16 L478.62,77.85 L481.49,77.54 L484.37,77.25 L487.25,76.96 L490.12,76.67 L493.00,76.40 L495.87,76.14 L498.75,75.88 L501.62,75.64 L504.50,75.40 L507.37,75.17 L510.25,74.94 L513.12,74.72 L516.00,74.50 L518.87,74.29 L521.75,74.08 L524.62,73.88 L527.50,73.68 L530.37,73.49 L533.25,73.29 L536.12,73.10 L539.00,72.90" fill="none" stroke="#000000" stroke-width="3.9" stroke-linejoin="round" stroke-linecap="butt" clip-path="url(#cB)"/>
<rect x="303" y="16.0" width="236.39999999999998" height="127.80000000000001" fill="none" stroke="#000000" stroke-width="1.15"/>
<line x1="350.30" y1="143.8" x2="350.30" y2="141.3" stroke="#000000" stroke-width="1"/>
<line x1="350.30" y1="16.0" x2="350.30" y2="18.5" stroke="#000000" stroke-width="1"/>
<line x1="397.60" y1="143.8" x2="397.60" y2="141.3" stroke="#000000" stroke-width="1"/>
<line x1="397.60" y1="16.0" x2="397.60" y2="18.5" stroke="#000000" stroke-width="1"/>
<line x1="444.90" y1="143.8" x2="444.90" y2="141.3" stroke="#000000" stroke-width="1"/>
<line x1="444.90" y1="16.0" x2="444.90" y2="18.5" stroke="#000000" stroke-width="1"/>
<line x1="492.20" y1="143.8" x2="492.20" y2="141.3" stroke="#000000" stroke-width="1"/>
<line x1="492.20" y1="16.0" x2="492.20" y2="18.5" stroke="#000000" stroke-width="1"/>
<line x1="303" y1="122.53" x2="305.5" y2="122.53" stroke="#000000" stroke-width="1"/>
<line x1="539.4" y1="122.53" x2="536.9" y2="122.53" stroke="#000000" stroke-width="1"/>
<line x1="303" y1="101.26" x2="305.5" y2="101.26" stroke="#000000" stroke-width="1"/>
<line x1="539.4" y1="101.26" x2="536.9" y2="101.26" stroke="#000000" stroke-width="1"/>
<line x1="303" y1="79.99" x2="305.5" y2="79.99" stroke="#000000" stroke-width="1"/>
<line x1="539.4" y1="79.99" x2="536.9" y2="79.99" stroke="#000000" stroke-width="1"/>
<line x1="303" y1="58.72" x2="305.5" y2="58.72" stroke="#000000" stroke-width="1"/>
<line x1="539.4" y1="58.72" x2="536.9" y2="58.72" stroke="#000000" stroke-width="1"/>
<line x1="303" y1="37.45" x2="305.5" y2="37.45" stroke="#000000" stroke-width="1"/>
<line x1="539.4" y1="37.45" x2="536.9" y2="37.45" stroke="#000000" stroke-width="1"/>
<rect x="399.5" y="92" width="140" height="51.6" fill="#fff" stroke="#5a5a5a" stroke-width="0.9"/>
<line x1="403.00" y1="98.50" x2="440.00" y2="98.50" stroke="#0072BD" stroke-width="3.7"/>
<line x1="403.00" y1="108.20" x2="440.00" y2="108.20" stroke="#D95319" stroke-width="3.7" stroke-dasharray="14 14"/>
<line x1="403.00" y1="117.90" x2="440.00" y2="117.90" stroke="#EDB120" stroke-width="3.9" stroke-dasharray="3.4 3.5"/>
<line x1="403.00" y1="127.60" x2="440.00" y2="127.60" stroke="#7E2F8E" stroke-width="3.9" stroke-dasharray="14 4 6.5 4"/>
<line x1="403.00" y1="137.00" x2="440.00" y2="137.00" stroke="#000000" stroke-width="4.1"/>
<text transform="translate(442.30,101.40) scale(1,0.8)" font-size="10.8" text-anchor="start">PI</text>
<text transform="translate(442.30,111.10) scale(1,0.8)" font-size="10.8" text-anchor="start">FOPI</text>
<text transform="translate(442.30,120.80) scale(1,0.8)" font-size="10.8" text-anchor="start">FPI</text>
<text transform="translate(442.30,130.50) scale(1,0.8)" font-size="10.8" text-anchor="start">FFOPI</text>
<text transform="translate(442.30,139.90) scale(1,0.8)" font-size="10.8" text-anchor="start" textLength="92" lengthAdjust="spacingAndGlyphs">VIC based on FFOPI</text>
<rect x="303" y="16.0" width="236.39999999999998" height="127.80000000000001" fill="none" stroke="#000000" stroke-width="1.15"/>
<text x="297.50" y="147.50" font-size="10.5" text-anchor="end" font-weight="normal">-2</text>
<text x="297.50" y="126.23" font-size="10.5" text-anchor="end" font-weight="normal">0</text>
<text x="297.50" y="104.96" font-size="10.5" text-anchor="end" font-weight="normal">2</text>
<text x="297.50" y="83.69" font-size="10.5" text-anchor="end" font-weight="normal">4</text>
<text x="297.50" y="62.42" font-size="10.5" text-anchor="end" font-weight="normal">6</text>
<text x="297.50" y="41.15" font-size="10.5" text-anchor="end" font-weight="normal">8</text>
<text x="297.50" y="19.88" font-size="10.5" text-anchor="end" font-weight="normal">10</text>
<text x="303.00" y="157.00" font-size="10.5" text-anchor="middle" font-weight="normal">0</text>
<text x="350.30" y="157.00" font-size="10.5" text-anchor="middle" font-weight="normal">2</text>
<text x="397.60" y="157.00" font-size="10.5" text-anchor="middle" font-weight="normal">4</text>
<text x="444.90" y="157.00" font-size="10.5" text-anchor="middle" font-weight="normal">6</text>
<text x="492.20" y="157.00" font-size="10.5" text-anchor="middle" font-weight="normal">8</text>
<text x="539.50" y="157.00" font-size="10.5" text-anchor="middle" font-weight="normal">10</text>
<text x="303.80" y="13.60" font-size="10" text-anchor="start" font-weight="normal" textLength="20.4" lengthAdjust="spacingAndGlyphs">&#215;10</text>
<text x="324.70" y="9.20" font-size="7.5" text-anchor="start" font-weight="normal" textLength="7.7" lengthAdjust="spacingAndGlyphs">-3</text>
<text transform="translate(286.2,79.9) rotate(-90)" font-size="10.3" text-anchor="middle" textLength="49.6" lengthAdjust="spacingAndGlyphs">&#916;PPV2 (P.U)</text>
<svg x="370" y="150" width="110" height="13.4" overflow="hidden"><text x="53" y="13.7" font-size="11" text-anchor="middle" textLength="77" lengthAdjust="spacingAndGlyphs">Time (Seconds)</text></svg>
<line x1="83.02" y1="204.6" x2="83.02" y2="367.5" stroke="#d0d0d0" stroke-width="1"/>
<line x1="126.14" y1="204.6" x2="126.14" y2="367.5" stroke="#d0d0d0" stroke-width="1"/>
<line x1="169.26" y1="204.6" x2="169.26" y2="367.5" stroke="#d0d0d0" stroke-width="1"/>
<line x1="212.38" y1="204.6" x2="212.38" y2="367.5" stroke="#d0d0d0" stroke-width="1"/>
<line x1="39.6" y1="326.80" x2="255.4" y2="326.80" stroke="#d0d0d0" stroke-width="1"/>
<line x1="39.6" y1="286.10" x2="255.4" y2="286.10" stroke="#d0d0d0" stroke-width="1"/>
<line x1="39.6" y1="245.40" x2="255.4" y2="245.40" stroke="#d0d0d0" stroke-width="1"/>
<path d="M39.70,326.70 L39.79,319.41 L39.85,311.85 L39.91,304.17 L39.97,296.54 L40.04,289.14 L40.15,282.14 L40.30,275.70 L40.50,270.00 L40.63,266.88 L40.75,263.85 L40.88,260.94 L41.02,258.20 L41.19,255.69 L41.40,253.46 L41.67,251.54 L42.00,250.00 L42.16,249.47 L42.33,248.96 L42.52,248.48 L42.71,248.05 L42.89,247.69 L43.08,247.41 L43.25,247.24 L43.40,247.20 L43.60,247.45 L43.76,248.06 L43.89,248.96 L44.00,250.07 L44.10,251.30 L44.21,252.59 L44.34,253.85 L44.50,255.00 L44.73,256.34 L44.97,257.71 L45.23,259.13 L45.51,260.58 L45.80,262.06 L46.09,263.58 L46.39,265.12 L46.70,266.70 L47.08,268.65 L47.47,270.67 L47.88,272.75 L48.30,274.87 L48.72,277.01 L49.15,279.16 L49.58,281.29 L50.00,283.40 L50.42,285.49 L50.85,287.58 L51.27,289.66 L51.70,291.75 L52.13,293.84 L52.55,295.92 L52.98,298.01 L53.40,300.10 L53.82,302.22 L54.24,304.37 L54.66,306.54 L55.08,308.71 L55.50,310.84 L55.91,312.92 L56.31,314.91 L56.70,316.80 L56.99,318.20 L57.25,319.53 L57.50,320.81 L57.75,322.05 L58.02,323.28 L58.31,324.50 L58.63,325.74 L59.00,327.00 L59.43,328.40 L59.88,329.85 L60.35,331.33 L60.85,332.80 L61.40,334.23 L62.00,335.59 L62.67,336.86 L63.40,338.00 L64.09,338.89 L64.84,339.73 L65.64,340.53 L66.47,341.26 L67.33,341.94 L68.19,342.54 L69.05,343.06 L69.90,343.50 L70.58,343.79 L71.28,344.03 L71.99,344.23 L72.69,344.37 L73.40,344.47 L74.08,344.52 L74.75,344.53 L75.40,344.50 L75.95,344.43 L76.49,344.32 L77.02,344.16 L77.54,343.98 L78.04,343.76 L78.54,343.53 L79.03,343.27 L79.50,343.00 L79.97,342.71 L80.40,342.39 L80.82,342.05 L81.24,341.69 L81.65,341.31 L82.07,340.90 L82.52,340.46 L83.00,340.00 L83.78,339.23 L84.63,338.37 L85.52,337.44 L86.43,336.46 L87.36,335.46 L88.27,334.44 L89.16,333.45 L90.00,332.50 L90.72,331.64 L91.42,330.77 L92.09,329.90 L92.75,329.04 L93.41,328.18 L94.08,327.35 L94.78,326.56 L95.50,325.80 L96.21,325.12 L96.94,324.47 L97.68,323.85 L98.44,323.24 L99.20,322.66 L99.97,322.09 L100.73,321.54 L101.50,321.00 L102.23,320.50 L102.96,320.02 L103.69,319.55 L104.42,319.10 L105.16,318.66 L105.91,318.23 L106.65,317.81 L107.40,317.40 L108.14,317.00 L108.88,316.61 L109.63,316.22 L110.38,315.84 L111.13,315.48 L111.88,315.14 L112.64,314.81 L113.40,314.50 L114.13,314.22 L114.86,313.96 L115.59,313.72 L116.32,313.49 L117.06,313.28 L117.82,313.08 L118.60,312.88 L119.40,312.70 L120.36,312.50 L121.33,312.32 L122.33,312.15 L123.35,312.00 L124.40,311.86 L125.47,311.73 L126.57,311.61 L127.70,311.50 L129.08,311.38 L130.48,311.27 L131.90,311.18 L133.36,311.10 L134.89,311.04 L136.49,310.98 L138.19,310.94 L140.00,310.90 L143.11,310.88 L146.55,310.90 L150.25,310.96 L154.13,311.04 L158.11,311.12 L162.11,311.19 L166.07,311.22 L169.90,311.20 L173.75,311.14 L177.72,311.05 L181.75,310.94 L185.76,310.81 L189.67,310.66 L193.39,310.49 L196.86,310.30 L200.00,310.10 L201.77,309.96 L203.33,309.81 L204.76,309.65 L206.12,309.48 L207.51,309.31 L208.98,309.14 L210.62,308.97 L212.50,308.80 L216.60,308.50 L221.35,308.20 L226.59,307.90 L232.17,307.60 L237.95,307.30 L243.78,307.00 L249.51,306.70 L255.00,306.40" fill="none" stroke="#0072BD" stroke-width="3.3" stroke-linejoin="round" stroke-linecap="butt" clip-path="url(#cC)"/>
<path d="M39.70,326.70 L39.76,319.45 L39.81,311.97 L39.87,304.39 L39.92,296.86 L39.98,289.52 L40.04,282.50 L40.11,275.95 L40.20,270.00 L40.25,266.38 L40.28,262.84 L40.30,259.45 L40.33,256.22 L40.39,253.21 L40.47,250.44 L40.61,247.96 L40.80,245.80 L40.92,244.80 L41.04,243.80 L41.17,242.84 L41.31,241.95 L41.46,241.18 L41.62,240.57 L41.80,240.16 L42.00,240.00 L42.16,240.05 L42.34,240.23 L42.53,240.53 L42.73,240.91 L42.93,241.37 L43.13,241.88 L43.32,242.43 L43.50,243.00 L43.92,244.76 L44.28,247.04 L44.61,249.72 L44.92,252.68 L45.24,255.81 L45.58,258.98 L45.96,262.08 L46.40,265.00 L46.93,267.95 L47.52,271.00 L48.14,274.10 L48.80,277.18 L49.47,280.21 L50.13,283.12 L50.78,285.87 L51.40,288.40 L51.81,290.04 L52.19,291.56 L52.55,293.00 L52.92,294.39 L53.31,295.75 L53.72,297.11 L54.18,298.52 L54.70,300.00 L55.38,301.83 L56.13,303.74 L56.94,305.70 L57.79,307.67 L58.67,309.62 L59.58,311.54 L60.49,313.37 L61.40,315.10 L62.18,316.51 L62.97,317.89 L63.77,319.23 L64.59,320.53 L65.42,321.78 L66.26,322.98 L67.12,324.12 L68.00,325.20 L68.76,326.07 L69.56,326.91 L70.37,327.71 L71.18,328.47 L72.00,329.19 L72.79,329.85 L73.57,330.46 L74.30,331.00 L74.79,331.35 L75.25,331.68 L75.71,331.99 L76.15,332.27 L76.60,332.51 L77.05,332.72 L77.51,332.88 L78.00,333.00 L78.51,333.06 L79.01,333.07 L79.52,333.03 L80.04,332.96 L80.58,332.85 L81.15,332.71 L81.75,332.56 L82.40,332.40 L83.62,332.09 L84.97,331.72 L86.44,331.28 L87.98,330.78 L89.57,330.22 L91.17,329.60 L92.76,328.93 L94.30,328.20 L96.08,327.21 L97.88,326.06 L99.69,324.78 L101.51,323.45 L103.32,322.11 L105.11,320.82 L106.87,319.63 L108.60,318.60 L109.98,317.88 L111.33,317.23 L112.65,316.64 L113.96,316.10 L115.28,315.57 L116.61,315.04 L117.98,314.49 L119.40,313.90 L121.13,313.15 L122.96,312.35 L124.86,311.53 L126.77,310.70 L128.66,309.89 L130.47,309.14 L132.17,308.47 L133.70,307.90 L134.57,307.59 L135.33,307.33 L136.03,307.09 L136.71,306.88 L137.40,306.69 L138.16,306.50 L139.01,306.30 L140.00,306.10 L142.48,305.68 L145.45,305.27 L148.80,304.89 L152.41,304.51 L156.17,304.15 L159.99,303.80 L163.73,303.45 L167.30,303.10 L170.81,302.75 L174.34,302.41 L177.88,302.07 L181.43,301.75 L184.98,301.43 L188.53,301.11 L192.07,300.80 L195.60,300.50 L199.08,300.21 L202.55,299.93 L206.00,299.66 L209.46,299.40 L212.92,299.13 L216.41,298.86 L219.93,298.59 L223.50,298.30 L227.35,297.98 L231.24,297.65 L235.17,297.31 L239.13,296.97 L243.10,296.63 L247.08,296.28 L251.05,295.94 L255.00,295.60" fill="none" stroke="#D95319" stroke-width="3.5" stroke-dasharray="13.5 14" stroke-linejoin="round" stroke-linecap="butt" clip-path="url(#cC)"/>
<path d="M39.70,326.70 L39.77,318.20 L39.83,309.46 L39.88,300.63 L39.94,291.84 L40.00,283.25 L40.08,274.98 L40.18,267.18 L40.30,260.00 L40.38,255.00 L40.43,249.67 L40.49,244.31 L40.55,239.25 L40.65,234.77 L40.79,231.18 L41.01,228.79 L41.30,227.90 L41.48,228.08 L41.67,228.62 L41.88,229.43 L42.11,230.45 L42.33,231.58 L42.56,232.77 L42.79,233.94 L43.00,235.00 L43.25,236.27 L43.51,237.63 L43.75,239.05 L44.00,240.49 L44.25,241.94 L44.50,243.35 L44.75,244.72 L45.00,246.00 L45.20,246.99 L45.38,247.95 L45.56,248.88 L45.75,249.78 L45.94,250.67 L46.16,251.55 L46.41,252.43 L46.70,253.30 L47.03,254.17 L47.38,255.02 L47.76,255.87 L48.16,256.71 L48.59,257.54 L49.04,258.36 L49.51,259.18 L50.00,260.00 L50.53,260.88 L51.05,261.79 L51.60,262.70 L52.17,263.60 L52.79,264.46 L53.45,265.28 L54.19,266.03 L55.00,266.70 L56.01,267.34 L57.11,267.89 L58.28,268.36 L59.53,268.77 L60.83,269.13 L62.19,269.44 L63.58,269.73 L65.00,270.00 L66.88,270.29 L68.87,270.50 L70.94,270.64 L73.09,270.73 L75.27,270.78 L77.47,270.82 L79.65,270.85 L81.80,270.90 L84.00,270.94 L86.26,270.94 L88.55,270.92 L90.83,270.90 L93.08,270.88 L95.26,270.88 L97.34,270.91 L99.30,271.00 L100.67,271.10 L101.93,271.23 L103.14,271.38 L104.31,271.55 L105.47,271.72 L106.67,271.89 L107.94,272.05 L109.30,272.20 L111.23,272.39 L113.29,272.58 L115.44,272.76 L117.66,272.95 L119.90,273.13 L122.14,273.29 L124.35,273.45 L126.50,273.60 L128.48,273.73 L130.41,273.84 L132.31,273.95 L134.21,274.05 L136.13,274.14 L138.09,274.23 L140.10,274.31 L142.20,274.40 L144.79,274.50 L147.41,274.58 L150.08,274.65 L152.82,274.72 L155.66,274.79 L158.62,274.88 L161.73,274.98 L165.00,275.10 L170.13,275.31 L175.73,275.56 L181.67,275.84 L187.84,276.13 L194.13,276.45 L200.41,276.79 L206.57,277.14 L212.50,277.50 L217.93,277.86 L223.29,278.24 L228.61,278.63 L233.90,279.04 L239.17,279.46 L244.43,279.88 L249.70,280.29 L255.00,280.70" fill="none" stroke="#EDB120" stroke-width="3.7" stroke-dasharray="3.4 3.3" stroke-linejoin="round" stroke-linecap="butt" clip-path="url(#cC)"/>
<path d="M39.70,326.70 L39.79,318.20 L39.88,309.46 L39.97,300.62 L40.05,291.84 L40.14,283.24 L40.25,274.97 L40.36,267.18 L40.50,260.00 L40.60,255.26 L40.68,250.54 L40.77,245.94 L40.87,241.55 L40.98,237.47 L41.12,233.79 L41.29,230.60 L41.50,228.00 L41.60,227.08 L41.70,226.17 L41.82,225.31 L41.93,224.53 L42.05,223.87 L42.17,223.35 L42.28,223.02 L42.40,222.90 L42.53,223.09 L42.66,223.62 L42.79,224.42 L42.93,225.42 L43.06,226.55 L43.20,227.73 L43.35,228.90 L43.50,230.00 L43.73,231.53 L43.99,233.23 L44.26,235.04 L44.54,236.90 L44.83,238.75 L45.10,240.54 L45.36,242.21 L45.60,243.70 L45.74,244.61 L45.85,245.46 L45.95,246.26 L46.04,247.03 L46.15,247.78 L46.29,248.52 L46.47,249.25 L46.70,250.00 L46.99,250.78 L47.33,251.57 L47.71,252.36 L48.12,253.13 L48.55,253.89 L48.99,254.62 L49.45,255.33 L49.90,256.00 L50.30,256.55 L50.69,257.06 L51.09,257.53 L51.51,257.99 L51.94,258.46 L52.39,258.94 L52.88,259.45 L53.40,260.00 L54.25,260.92 L55.16,261.91 L56.15,262.97 L57.18,264.07 L58.26,265.18 L59.38,266.29 L60.53,267.37 L61.70,268.40 L63.05,269.49 L64.49,270.56 L65.99,271.61 L67.52,272.65 L69.05,273.68 L70.56,274.69 L72.02,275.70 L73.40,276.70 L74.52,277.57 L75.61,278.44 L76.65,279.30 L77.68,280.16 L78.70,281.00 L79.72,281.83 L80.75,282.63 L81.80,283.40 L82.81,284.11 L83.80,284.80 L84.78,285.46 L85.77,286.11 L86.79,286.74 L87.84,287.37 L88.94,287.99 L90.10,288.60 L91.64,289.37 L93.29,290.15 L95.01,290.93 L96.79,291.69 L98.60,292.42 L100.40,293.09 L102.18,293.69 L103.90,294.20 L105.41,294.58 L106.91,294.88 L108.40,295.13 L109.88,295.34 L111.36,295.52 L112.83,295.68 L114.31,295.83 L115.80,296.00 L117.28,296.17 L118.77,296.33 L120.25,296.48 L121.73,296.61 L123.22,296.73 L124.71,296.84 L126.20,296.93 L127.70,297.00 L129.23,297.06 L130.76,297.11 L132.30,297.14 L133.84,297.16 L135.38,297.15 L136.92,297.13 L138.46,297.08 L140.00,297.00 L141.54,296.89 L143.08,296.75 L144.61,296.59 L146.15,296.40 L147.68,296.20 L149.22,295.98 L150.76,295.74 L152.30,295.50 L153.88,295.23 L155.46,294.93 L157.04,294.60 L158.62,294.27 L160.21,293.93 L161.80,293.60 L163.40,293.28 L165.00,293.00 L166.63,292.75 L168.27,292.52 L169.92,292.31 L171.57,292.10 L173.22,291.90 L174.88,291.69 L176.54,291.46 L178.20,291.20 L179.89,290.90 L181.57,290.58 L183.23,290.24 L184.91,289.89 L186.61,289.53 L188.35,289.18 L190.14,288.83 L192.00,288.50 L194.35,288.11 L196.79,287.71 L199.31,287.31 L201.88,286.92 L204.50,286.55 L207.16,286.20 L209.83,285.88 L212.50,285.60 L215.44,285.33 L218.46,285.10 L221.53,284.90 L224.62,284.72 L227.71,284.58 L230.75,284.46 L233.73,284.37 L236.60,284.30 L239.02,284.27 L241.37,284.28 L243.68,284.31 L245.95,284.37 L248.21,284.43 L250.46,284.49 L252.72,284.55 L255.00,284.60" fill="none" stroke="#7E2F8E" stroke-width="3.7" stroke-dasharray="13 4 6 4" stroke-linejoin="round" stroke-linecap="butt" clip-path="url(#cC)"/>
<path d="M39.70,326.70 L39.72,325.58 L39.70,324.40 L39.68,323.21 L39.66,322.03 L39.66,320.89 L39.71,319.81 L39.82,318.84 L40.00,318.00 L40.15,317.57 L40.32,317.21 L40.51,316.89 L40.71,316.60 L40.93,316.31 L41.17,315.99 L41.43,315.63 L41.70,315.20 L42.32,314.12 L43.04,312.83 L43.84,311.39 L44.69,309.83 L45.60,308.22 L46.53,306.59 L47.47,305.00 L48.40,303.50 L49.37,302.01 L50.36,300.50 L51.38,299.00 L52.42,297.51 L53.48,296.03 L54.55,294.58 L55.62,293.17 L56.70,291.80 L57.71,290.56 L58.72,289.36 L59.75,288.18 L60.78,287.02 L61.83,285.89 L62.88,284.77 L63.93,283.68 L65.00,282.60 L66.03,281.59 L67.06,280.60 L68.11,279.63 L69.16,278.68 L70.21,277.74 L71.27,276.82 L72.33,275.90 L73.40,275.00 L74.44,274.13 L75.47,273.26 L76.52,272.40 L77.56,271.55 L78.61,270.73 L79.67,269.92 L80.73,269.14 L81.80,268.40 L82.83,267.72 L83.90,267.04 L84.97,266.39 L86.05,265.76 L87.12,265.16 L88.15,264.60 L89.15,264.07 L90.10,263.60 L90.76,263.29 L91.38,263.02 L91.98,262.77 L92.56,262.54 L93.14,262.32 L93.73,262.10 L94.35,261.86 L95.00,261.60 L95.83,261.25 L96.70,260.89 L97.60,260.52 L98.52,260.13 L99.44,259.75 L100.37,259.36 L101.29,258.98 L102.20,258.60 L103.09,258.23 L103.97,257.85 L104.86,257.47 L105.74,257.10 L106.63,256.73 L107.51,256.37 L108.40,256.02 L109.30,255.70 L110.18,255.40 L111.06,255.11 L111.93,254.84 L112.81,254.58 L113.70,254.33 L114.61,254.09 L115.54,253.84 L116.50,253.60 L117.66,253.31 L118.86,253.03 L120.09,252.76 L121.34,252.48 L122.62,252.22 L123.91,251.97 L125.20,251.73 L126.50,251.50 L127.89,251.27 L129.28,251.06 L130.69,250.86 L132.11,250.67 L133.55,250.49 L135.01,250.32 L136.49,250.16 L138.00,250.00 L139.70,249.83 L141.43,249.66 L143.18,249.51 L144.96,249.36 L146.76,249.23 L148.59,249.11 L150.43,249.00 L152.30,248.90 L154.38,248.81 L156.48,248.72 L158.60,248.65 L160.76,248.59 L162.94,248.55 L165.16,248.54 L167.41,248.55 L169.70,248.60 L172.36,248.69 L175.11,248.82 L177.91,248.99 L180.74,249.18 L183.59,249.40 L186.43,249.65 L189.24,249.92 L192.00,250.20 L194.60,250.50 L197.15,250.84 L199.68,251.21 L202.20,251.60 L204.73,251.99 L207.28,252.38 L209.86,252.75 L212.50,253.10 L215.44,253.44 L218.46,253.76 L221.54,254.07 L224.63,254.37 L227.72,254.67 L230.76,254.98 L233.73,255.33 L236.60,255.70 L239.02,256.06 L241.38,256.44 L243.69,256.84 L245.96,257.25 L248.21,257.66 L250.46,258.08 L252.72,258.49 L255.00,258.90" fill="none" stroke="#000000" stroke-width="3.3" stroke-linejoin="round" stroke-linecap="butt" clip-path="url(#cC)"/>
<path d="M39.70,326.70 L39.54,316.32 L39.17,304.62 L38.72,292.40 L38.31,280.44 L38.07,269.53 L38.12,260.46 L38.59,254.02 L39.60,251.00 L39.84,250.86 L40.09,250.80 L40.36,250.80 L40.63,250.86 L40.91,250.97 L41.18,251.12 L41.45,251.30 L41.70,251.50 L42.17,252.08 L42.59,252.91 L42.99,253.93 L43.36,255.09 L43.74,256.33 L44.13,257.60 L44.54,258.84 L45.00,260.00 L45.55,261.22 L46.13,262.44 L46.73,263.68 L47.35,264.92 L47.99,266.18 L48.64,267.44 L49.32,268.72 L50.00,270.00 L50.77,271.44 L51.55,272.91 L52.34,274.40 L53.16,275.89 L54.00,277.39 L54.87,278.86 L55.77,280.30 L56.70,281.70 L57.65,283.04 L58.64,284.36 L59.66,285.65 L60.71,286.93 L61.77,288.18 L62.85,289.41 L63.92,290.61 L65.00,291.80 L66.03,292.92 L67.07,294.05 L68.13,295.16 L69.19,296.25 L70.25,297.30 L71.31,298.30 L72.36,299.24 L73.40,300.10 L74.24,300.73 L75.08,301.30 L75.91,301.81 L76.75,302.30 L77.57,302.78 L78.39,303.26 L79.20,303.76 L80.00,304.30 L80.78,304.87 L81.54,305.47 L82.29,306.07 L83.03,306.69 L83.77,307.31 L84.51,307.92 L85.25,308.52 L86.00,309.10 L86.73,309.65 L87.46,310.20 L88.20,310.74 L88.93,311.27 L89.67,311.79 L90.41,312.31 L91.15,312.81 L91.90,313.30 L92.64,313.77 L93.38,314.23 L94.13,314.68 L94.88,315.12 L95.63,315.55 L96.39,315.97 L97.14,316.39 L97.90,316.80 L98.65,317.20 L99.39,317.58 L100.15,317.96 L100.90,318.33 L101.65,318.69 L102.40,319.06 L103.15,319.43 L103.90,319.80 L104.64,320.18 L105.38,320.56 L106.11,320.95 L106.84,321.33 L107.58,321.72 L108.31,322.09 L109.05,322.45 L109.80,322.80 L110.54,323.13 L111.29,323.44 L112.04,323.74 L112.79,324.04 L113.54,324.32 L114.30,324.61 L115.05,324.90 L115.80,325.20 L116.55,325.50 L117.30,325.81 L118.05,326.12 L118.80,326.44 L119.55,326.74 L120.30,327.04 L121.05,327.33 L121.80,327.60 L122.53,327.85 L123.27,328.10 L124.00,328.34 L124.74,328.57 L125.48,328.79 L126.22,329.00 L126.96,329.21 L127.70,329.40 L128.44,329.58 L129.19,329.74 L129.93,329.89 L130.68,330.04 L131.43,330.18 L132.19,330.32 L132.94,330.46 L133.70,330.60 L134.47,330.75 L135.23,330.89 L135.99,331.03 L136.75,331.17 L137.53,331.32 L138.32,331.47 L139.14,331.63 L140.00,331.80 L141.12,332.04 L142.26,332.29 L143.43,332.55 L144.64,332.83 L145.90,333.11 L147.20,333.40 L148.57,333.70 L150.00,334.00 L152.13,334.45 L154.40,334.93 L156.78,335.43 L159.26,335.94 L161.82,336.45 L164.46,336.94 L167.16,337.39 L169.90,337.80 L173.45,338.25 L177.28,338.66 L181.29,339.04 L185.36,339.38 L189.38,339.69 L193.24,339.96 L196.82,340.20 L200.00,340.40 L201.77,340.51 L203.33,340.59 L204.76,340.66 L206.12,340.72 L207.50,340.77 L208.98,340.81 L210.62,340.85 L212.50,340.90 L216.61,340.98 L221.35,341.05 L226.59,341.10 L232.17,341.14 L237.95,341.18 L243.78,341.22 L249.52,341.25 L255.00,341.30" fill="none" stroke="#4DBEEE" stroke-width="3.8" stroke-linejoin="round" stroke-linecap="butt" clip-path="url(#cC)"/>
<rect x="39.6" y="204.6" width="215.8" height="162.9" fill="none" stroke="#000000" stroke-width="1.15"/>
<line x1="83.02" y1="367.5" x2="83.02" y2="365.0" stroke="#000000" stroke-width="1"/>
<line x1="83.02" y1="204.6" x2="83.02" y2="207.1" stroke="#000000" stroke-width="1"/>
<line x1="126.14" y1="367.5" x2="126.14" y2="365.0" stroke="#000000" stroke-width="1"/>
<line x1="126.14" y1="204.6" x2="126.14" y2="207.1" stroke="#000000" stroke-width="1"/>
<line x1="169.26" y1="367.5" x2="169.26" y2="365.0" stroke="#000000" stroke-width="1"/>
<line x1="169.26" y1="204.6" x2="169.26" y2="207.1" stroke="#000000" stroke-width="1"/>
<line x1="212.38" y1="367.5" x2="212.38" y2="365.0" stroke="#000000" stroke-width="1"/>
<line x1="212.38" y1="204.6" x2="212.38" y2="207.1" stroke="#000000" stroke-width="1"/>
<line x1="39.6" y1="326.80" x2="42.1" y2="326.80" stroke="#000000" stroke-width="1"/>
<line x1="255.4" y1="326.80" x2="252.9" y2="326.80" stroke="#000000" stroke-width="1"/>
<line x1="39.6" y1="286.10" x2="42.1" y2="286.10" stroke="#000000" stroke-width="1"/>
<line x1="255.4" y1="286.10" x2="252.9" y2="286.10" stroke="#000000" stroke-width="1"/>
<line x1="39.6" y1="245.40" x2="42.1" y2="245.40" stroke="#000000" stroke-width="1"/>
<line x1="255.4" y1="245.40" x2="252.9" y2="245.40" stroke="#000000" stroke-width="1"/>
<rect x="49.3" y="204.5" width="206.1" height="41.7" fill="#fff" stroke="#5a5a5a" stroke-width="0.9"/>
<line x1="53.00" y1="212.60" x2="89.00" y2="212.60" stroke="#0072BD" stroke-width="3.7"/>
<line x1="53.00" y1="225.50" x2="89.00" y2="225.50" stroke="#D95319" stroke-width="3.7" stroke-dasharray="14 14"/>
<line x1="53.00" y1="238.60" x2="89.00" y2="238.60" stroke="#EDB120" stroke-width="3.9" stroke-dasharray="3.4 3.5"/>
<line x1="122.00" y1="212.60" x2="157.70" y2="212.60" stroke="#7E2F8E" stroke-width="3.9" stroke-dasharray="14 4 6.5 4"/>
<line x1="122.00" y1="225.50" x2="157.70" y2="225.50" stroke="#000000" stroke-width="4.1"/>
<line x1="122.00" y1="238.60" x2="157.70" y2="238.60" stroke="#4DBEEE" stroke-width="3.9"/>
<text x="91.60" y="216.20" font-size="10.5" text-anchor="start" font-weight="normal">PI</text>
<text x="91.60" y="229.10" font-size="10.5" text-anchor="start" font-weight="normal">FOPI</text>
<text x="91.60" y="242.20" font-size="10.5" text-anchor="start" font-weight="normal">FPI</text>
<text x="160.20" y="216.20" font-size="10.5" text-anchor="start" font-weight="normal">FFOPI</text>
<text x="160.20" y="229.10" font-size="10.5" text-anchor="start" font-weight="normal" textLength="90.8" lengthAdjust="spacingAndGlyphs">VIC based on FFOPI</text>
<text x="160.20" y="242.20" font-size="10.5" text-anchor="start" font-weight="normal">&#916;PESS1 (P.U)</text>
<rect x="39.6" y="204.6" width="215.8" height="162.9" fill="none" stroke="#000000" stroke-width="1.15"/>
<text x="34.60" y="371.30" font-size="11" text-anchor="end" font-weight="normal">-5</text>
<text x="34.60" y="330.60" font-size="11" text-anchor="end" font-weight="normal">0</text>
<text x="34.60" y="289.90" font-size="11" text-anchor="end" font-weight="normal">5</text>
<text x="34.60" y="249.20" font-size="11" text-anchor="end" font-weight="normal">10</text>
<text x="34.60" y="208.50" font-size="11" text-anchor="end" font-weight="normal">15</text>
<text x="39.90" y="384.30" font-size="11" text-anchor="middle" font-weight="normal">0</text>
<text x="83.02" y="384.30" font-size="11" text-anchor="middle" font-weight="normal">2</text>
<text x="126.14" y="384.30" font-size="11" text-anchor="middle" font-weight="normal">4</text>
<text x="169.26" y="384.30" font-size="11" text-anchor="middle" font-weight="normal">6</text>
<text x="212.38" y="384.30" font-size="11" text-anchor="middle" font-weight="normal">8</text>
<text x="255.50" y="384.30" font-size="11" text-anchor="middle" font-weight="normal">10</text>
<text x="40.90" y="201.40" font-size="12" text-anchor="start" font-weight="normal" textLength="19.6" lengthAdjust="spacingAndGlyphs">&#215;10</text>
<text x="60.90" y="195.70" font-size="8.5" text-anchor="start" font-weight="normal" textLength="7.5" lengthAdjust="spacingAndGlyphs">-3</text>
<text x="148.40" y="393.60" font-size="11.7" text-anchor="middle" font-weight="normal" textLength="74.2" lengthAdjust="spacingAndGlyphs">Time (Seconds)</text>
<text transform="translate(19.8,285.2) rotate(-90)" font-size="10.6" text-anchor="middle" textLength="76.8" lengthAdjust="spacingAndGlyphs">&#916;P total 1 (P.U)</text>
<line x1="365.58" y1="182.5" x2="365.58" y2="379.6" stroke="#d0d0d0" stroke-width="1"/>
<line x1="408.76" y1="182.5" x2="408.76" y2="379.6" stroke="#d0d0d0" stroke-width="1"/>
<line x1="451.94" y1="182.5" x2="451.94" y2="379.6" stroke="#d0d0d0" stroke-width="1"/>
<line x1="495.12" y1="182.5" x2="495.12" y2="379.6" stroke="#d0d0d0" stroke-width="1"/>
<line x1="322.4" y1="346.75" x2="538.3" y2="346.75" stroke="#d0d0d0" stroke-width="1"/>
<line x1="322.4" y1="313.90" x2="538.3" y2="313.90" stroke="#d0d0d0" stroke-width="1"/>
<line x1="322.4" y1="281.05" x2="538.3" y2="281.05" stroke="#d0d0d0" stroke-width="1"/>
<line x1="322.4" y1="248.20" x2="538.3" y2="248.20" stroke="#d0d0d0" stroke-width="1"/>
<line x1="322.4" y1="215.35" x2="538.3" y2="215.35" stroke="#d0d0d0" stroke-width="1"/>
<path d="M322.40,347.20 L322.47,341.27 L322.54,335.28 L322.60,329.28 L322.67,323.28 L322.74,317.33 L322.81,311.44 L322.90,305.66 L323.00,300.00 L323.08,294.83 L323.13,289.44 L323.17,284.00 L323.23,278.68 L323.32,273.66 L323.47,269.09 L323.69,265.14 L324.00,262.00 L324.16,260.91 L324.33,259.84 L324.52,258.83 L324.71,257.91 L324.91,257.14 L325.11,256.53 L325.31,256.14 L325.50,256.00 L325.69,256.16 L325.89,256.59 L326.08,257.24 L326.28,258.06 L326.47,259.00 L326.66,260.01 L326.83,261.02 L327.00,262.00 L327.24,263.84 L327.44,266.20 L327.63,268.83 L327.79,271.51 L327.96,273.99 L328.12,276.06 L328.30,277.47 L328.50,278.00 L328.67,277.71 L328.86,276.91 L329.04,275.72 L329.23,274.25 L329.43,272.63 L329.62,270.97 L329.81,269.39 L330.00,268.00 L330.19,266.76 L330.37,265.53 L330.56,264.30 L330.74,263.07 L330.93,261.83 L331.12,260.58 L331.31,259.30 L331.50,258.00 L331.72,256.52 L331.94,255.02 L332.16,253.51 L332.39,251.97 L332.62,250.40 L332.84,248.81 L333.07,247.17 L333.30,245.50 L333.55,243.40 L333.78,241.16 L333.99,238.82 L334.21,236.46 L334.46,234.14 L334.74,231.91 L335.08,229.84 L335.50,228.00 L335.84,226.89 L336.21,225.90 L336.62,224.98 L337.04,224.10 L337.47,223.24 L337.90,222.35 L338.31,221.42 L338.70,220.40 L339.13,219.01 L339.52,217.52 L339.89,215.95 L340.25,214.35 L340.62,212.75 L341.03,211.20 L341.48,209.74 L342.00,208.40 L342.46,207.36 L342.92,206.32 L343.40,205.30 L343.91,204.33 L344.46,203.43 L345.05,202.63 L345.69,201.94 L346.40,201.40 L347.09,201.04 L347.84,200.79 L348.63,200.63 L349.45,200.54 L350.30,200.52 L351.16,200.55 L352.03,200.61 L352.90,200.70 L353.93,200.86 L354.98,201.09 L356.06,201.40 L357.14,201.77 L358.24,202.19 L359.36,202.64 L360.48,203.11 L361.60,203.60 L362.92,204.20 L364.27,204.87 L365.63,205.59 L367.00,206.35 L368.38,207.13 L369.76,207.93 L371.13,208.72 L372.50,209.50 L373.88,210.29 L375.26,211.09 L376.63,211.90 L378.01,212.72 L379.38,213.54 L380.76,214.36 L382.13,215.18 L383.50,216.00 L384.86,216.83 L386.21,217.70 L387.56,218.57 L388.92,219.44 L390.27,220.29 L391.63,221.09 L393.01,221.84 L394.40,222.50 L395.73,223.06 L397.08,223.57 L398.44,224.04 L399.80,224.46 L401.17,224.85 L402.55,225.19 L403.92,225.51 L405.30,225.80 L406.64,226.04 L407.98,226.24 L409.31,226.39 L410.66,226.52 L412.01,226.62 L413.38,226.71 L414.77,226.80 L416.20,226.90 L417.82,227.01 L419.46,227.12 L421.11,227.22 L422.79,227.31 L424.51,227.38 L426.28,227.44 L428.10,227.48 L430.00,227.50 L432.49,227.47 L435.05,227.38 L437.69,227.24 L440.42,227.09 L443.24,226.93 L446.17,226.80 L449.22,226.72 L452.40,226.70 L457.08,226.78 L462.10,226.95 L467.38,227.18 L472.85,227.47 L478.43,227.80 L484.03,228.14 L489.58,228.48 L495.00,228.80 L500.34,229.12 L505.67,229.45 L511.01,229.80 L516.35,230.16 L521.69,230.52 L527.02,230.88 L532.36,231.25 L537.70,231.60" fill="none" stroke="#0072BD" stroke-width="3.3" stroke-linejoin="round" stroke-linecap="butt" clip-path="url(#cD)"/>
<path d="M322.40,347.20 L322.47,341.25 L322.54,335.23 L322.61,329.19 L322.68,323.16 L322.75,317.18 L322.83,311.30 L322.91,305.56 L323.00,300.00 L323.06,295.19 L323.09,290.25 L323.10,285.31 L323.13,280.49 L323.19,275.92 L323.31,271.73 L323.50,268.05 L323.80,265.00 L323.98,263.76 L324.18,262.53 L324.39,261.35 L324.62,260.27 L324.85,259.35 L325.08,258.63 L325.30,258.16 L325.50,258.00 L325.72,258.29 L325.92,259.06 L326.11,260.22 L326.30,261.65 L326.48,263.25 L326.65,264.91 L326.83,266.53 L327.00,268.00 L327.20,269.83 L327.39,271.99 L327.57,274.30 L327.75,276.60 L327.93,278.69 L328.11,280.41 L328.30,281.57 L328.50,282.00 L328.68,281.72 L328.87,280.95 L329.06,279.79 L329.25,278.36 L329.44,276.76 L329.63,275.09 L329.82,273.47 L330.00,272.00 L330.20,270.37 L330.39,268.68 L330.57,266.94 L330.75,265.17 L330.93,263.38 L331.11,261.58 L331.30,259.78 L331.50,258.00 L331.69,256.16 L331.86,254.29 L332.01,252.40 L332.18,250.51 L332.38,248.64 L332.62,246.80 L332.92,245.02 L333.30,243.30 L333.71,241.84 L334.19,240.42 L334.71,239.04 L335.27,237.68 L335.86,236.35 L336.45,235.03 L337.03,233.72 L337.60,232.40 L338.13,231.11 L338.65,229.80 L339.18,228.49 L339.71,227.19 L340.25,225.93 L340.81,224.71 L341.39,223.57 L342.00,222.50 L342.50,221.71 L343.01,220.96 L343.52,220.26 L344.05,219.58 L344.59,218.94 L345.16,218.31 L345.76,217.70 L346.40,217.10 L347.11,216.47 L347.86,215.85 L348.63,215.25 L349.43,214.67 L350.26,214.12 L351.12,213.61 L352.00,213.13 L352.90,212.70 L353.89,212.27 L354.92,211.88 L355.98,211.51 L357.07,211.19 L358.18,210.92 L359.31,210.71 L360.45,210.57 L361.60,210.50 L362.90,210.53 L364.24,210.67 L365.60,210.89 L366.98,211.19 L368.37,211.54 L369.76,211.92 L371.14,212.31 L372.50,212.70 L373.89,213.11 L375.27,213.56 L376.65,214.04 L378.02,214.54 L379.40,215.07 L380.77,215.61 L382.14,216.15 L383.50,216.70 L384.87,217.27 L386.24,217.86 L387.60,218.46 L388.96,219.08 L390.31,219.70 L391.67,220.31 L393.03,220.92 L394.40,221.50 L395.76,222.06 L397.12,222.62 L398.48,223.16 L399.84,223.70 L401.20,224.24 L402.57,224.76 L403.93,225.28 L405.30,225.80 L406.66,226.31 L408.02,226.83 L409.38,227.34 L410.74,227.85 L412.10,228.34 L413.46,228.82 L414.83,229.27 L416.20,229.70 L417.54,230.10 L418.87,230.49 L420.19,230.86 L421.52,231.21 L422.86,231.54 L424.23,231.85 L425.64,232.14 L427.10,232.40 L428.83,232.65 L430.58,232.85 L432.36,233.02 L434.19,233.15 L436.08,233.27 L438.03,233.39 L440.07,233.53 L442.20,233.70 L445.29,233.97 L448.55,234.27 L451.97,234.58 L455.52,234.90 L459.18,235.22 L462.93,235.53 L466.74,235.83 L470.60,236.10 L475.40,236.39 L480.47,236.65 L485.71,236.89 L491.04,237.12 L496.36,237.34 L501.57,237.58 L506.58,237.82 L511.30,238.10 L514.87,238.34 L518.30,238.59 L521.62,238.86 L524.86,239.12 L528.05,239.39 L531.23,239.66 L534.44,239.93 L537.70,240.20" fill="none" stroke="#D95319" stroke-width="3.1" stroke-dasharray="13.5 14" stroke-linejoin="round" stroke-linecap="butt" clip-path="url(#cD)"/>
<path d="M322.40,347.20 L322.45,339.91 L322.48,332.43 L322.52,324.86 L322.56,317.34 L322.60,309.97 L322.65,302.88 L322.72,296.18 L322.80,290.00 L322.84,285.85 L322.84,281.71 L322.84,277.65 L322.85,273.78 L322.89,270.19 L323.00,266.97 L323.19,264.21 L323.50,262.00 L323.66,261.26 L323.83,260.53 L324.02,259.85 L324.22,259.24 L324.42,258.72 L324.63,258.33 L324.82,258.08 L325.00,258.00 L325.29,258.37 L325.56,259.32 L325.82,260.73 L326.08,262.47 L326.32,264.39 L326.56,266.38 L326.78,268.29 L327.00,270.00 L327.22,271.89 L327.41,274.07 L327.59,276.39 L327.77,278.67 L327.94,280.74 L328.11,282.44 L328.30,283.58 L328.50,284.00 L328.68,283.75 L328.86,283.06 L329.05,282.02 L329.25,280.74 L329.44,279.29 L329.63,277.79 L329.82,276.33 L330.00,275.00 L330.18,273.41 L330.33,271.65 L330.47,269.79 L330.60,267.92 L330.75,266.12 L330.94,264.48 L331.19,263.08 L331.50,262.00 L331.65,261.63 L331.79,261.30 L331.94,261.01 L332.09,260.75 L332.27,260.53 L332.47,260.33 L332.71,260.15 L333.00,260.00 L333.60,259.84 L334.32,259.80 L335.15,259.86 L336.06,259.99 L337.02,260.14 L338.01,260.30 L339.02,260.43 L340.00,260.50 L341.19,260.52 L342.38,260.52 L343.59,260.51 L344.84,260.48 L346.16,260.44 L347.56,260.40 L349.07,260.35 L350.70,260.30 L353.94,260.20 L357.64,260.06 L361.69,259.91 L365.98,259.74 L370.42,259.56 L374.88,259.37 L379.28,259.18 L383.50,259.00 L387.69,258.82 L392.00,258.64 L396.38,258.46 L400.72,258.28 L404.96,258.09 L409.00,257.90 L412.78,257.70 L416.20,257.50 L418.16,257.37 L419.89,257.24 L421.49,257.10 L423.01,256.97 L424.55,256.83 L426.18,256.69 L427.97,256.55 L430.00,256.40 L434.05,256.13 L438.64,255.84 L443.65,255.53 L448.96,255.22 L454.43,254.91 L459.94,254.59 L465.38,254.29 L470.60,254.00 L475.74,253.73 L480.98,253.46 L486.24,253.21 L491.50,252.96 L496.68,252.71 L501.74,252.45 L506.63,252.18 L511.30,251.90 L514.87,251.66 L518.30,251.42 L521.62,251.17 L524.86,250.92 L528.05,250.66 L531.23,250.41 L534.44,250.15 L537.70,249.90" fill="none" stroke="#EDB120" stroke-width="3.3" stroke-dasharray="3.4 3.3" stroke-linejoin="round" stroke-linecap="butt" clip-path="url(#cD)"/>
<path d="M322.40,347.20 L322.45,341.28 L322.50,335.34 L322.55,329.38 L322.60,323.43 L322.65,317.50 L322.70,311.61 L322.75,305.77 L322.80,300.00 L322.79,294.26 L322.71,288.06 L322.59,281.69 L322.49,275.45 L322.45,269.67 L322.53,264.63 L322.76,260.64 L323.20,258.00 L323.34,257.57 L323.50,257.18 L323.67,256.83 L323.85,256.52 L324.02,256.28 L324.19,256.11 L324.35,256.01 L324.50,256.00 L324.80,256.47 L325.04,257.61 L325.24,259.27 L325.40,261.30 L325.54,263.54 L325.68,265.84 L325.83,268.04 L326.00,270.00 L326.17,271.95 L326.32,274.05 L326.46,276.21 L326.60,278.36 L326.75,280.40 L326.95,282.24 L327.19,283.80 L327.50,285.00 L327.65,285.39 L327.80,285.76 L327.97,286.11 L328.15,286.42 L328.32,286.68 L328.49,286.87 L328.65,286.98 L328.80,287.00 L329.09,286.58 L329.34,285.57 L329.56,284.10 L329.75,282.32 L329.94,280.38 L330.11,278.41 L330.30,276.57 L330.50,275.00 L330.67,273.76 L330.81,272.49 L330.94,271.22 L331.08,269.98 L331.24,268.81 L331.44,267.73 L331.68,266.78 L332.00,266.00 L332.20,265.63 L332.40,265.30 L332.62,265.00 L332.84,264.74 L333.09,264.51 L333.36,264.31 L333.66,264.14 L334.00,264.00 L334.55,263.90 L335.17,263.93 L335.85,264.06 L336.58,264.23 L337.35,264.42 L338.15,264.59 L338.97,264.70 L339.80,264.70 L341.01,264.58 L342.31,264.38 L343.68,264.12 L345.09,263.78 L346.53,263.37 L347.96,262.91 L349.35,262.38 L350.70,261.80 L352.11,261.07 L353.49,260.21 L354.85,259.25 L356.20,258.24 L357.54,257.19 L358.88,256.15 L360.23,255.14 L361.60,254.20 L362.95,253.33 L364.30,252.47 L365.66,251.62 L367.02,250.78 L368.38,249.96 L369.75,249.15 L371.12,248.37 L372.50,247.60 L373.86,246.85 L375.22,246.10 L376.58,245.36 L377.95,244.64 L379.33,243.95 L380.71,243.30 L382.10,242.72 L383.50,242.20 L384.83,241.78 L386.15,241.42 L387.47,241.11 L388.80,240.85 L390.15,240.61 L391.53,240.40 L392.94,240.20 L394.40,240.00 L396.17,239.78 L397.99,239.58 L399.86,239.40 L401.77,239.26 L403.70,239.13 L405.66,239.03 L407.63,238.95 L409.60,238.90 L411.76,238.87 L413.99,238.86 L416.26,238.88 L418.53,238.93 L420.79,239.00 L422.99,239.11 L425.11,239.24 L427.10,239.40 L428.58,239.56 L429.98,239.74 L431.31,239.95 L432.62,240.18 L433.92,240.41 L435.23,240.65 L436.58,240.88 L438.00,241.10 L439.65,241.33 L441.28,241.56 L442.92,241.78 L444.60,242.00 L446.35,242.23 L448.22,242.47 L450.22,242.72 L452.40,243.00 L456.64,243.56 L461.46,244.23 L466.71,244.96 L472.28,245.72 L478.02,246.47 L483.81,247.17 L489.51,247.80 L495.00,248.30 L500.33,248.68 L505.66,248.96 L511.00,249.17 L516.34,249.33 L521.68,249.46 L527.02,249.59 L532.36,249.73 L537.70,249.90" fill="none" stroke="#7E2F8E" stroke-width="3.3" stroke-dasharray="13 4 6 4" stroke-linejoin="round" stroke-linecap="butt" clip-path="url(#cD)"/>
<path d="M322.40,347.20 L322.41,346.81 L322.40,346.42 L322.39,346.03 L322.38,345.65 L322.38,345.26 L322.41,344.86 L322.48,344.44 L322.60,344.00 L322.88,343.28 L323.27,342.51 L323.73,341.71 L324.27,340.88 L324.85,340.03 L325.46,339.18 L326.08,338.33 L326.70,337.50 L327.42,336.54 L328.20,335.55 L329.00,334.55 L329.84,333.55 L330.70,332.56 L331.56,331.60 L332.44,330.67 L333.30,329.80 L334.08,329.05 L334.85,328.35 L335.62,327.68 L336.40,327.02 L337.19,326.38 L338.02,325.74 L338.89,325.08 L339.80,324.40 L341.01,323.52 L342.30,322.61 L343.65,321.69 L345.04,320.76 L346.45,319.84 L347.88,318.93 L349.30,318.05 L350.70,317.20 L352.05,316.41 L353.40,315.64 L354.76,314.89 L356.13,314.16 L357.49,313.44 L358.86,312.72 L360.23,312.01 L361.60,311.30 L362.96,310.59 L364.32,309.90 L365.68,309.21 L367.04,308.52 L368.40,307.84 L369.77,307.16 L371.13,306.48 L372.50,305.80 L373.87,305.12 L375.25,304.44 L376.62,303.77 L378.00,303.10 L379.38,302.43 L380.75,301.76 L382.13,301.08 L383.50,300.40 L384.86,299.71 L386.23,299.01 L387.58,298.30 L388.94,297.59 L390.30,296.89 L391.66,296.21 L393.03,295.54 L394.40,294.90 L395.75,294.30 L397.11,293.73 L398.47,293.17 L399.84,292.63 L401.20,292.10 L402.57,291.57 L403.94,291.04 L405.30,290.50 L406.66,289.96 L408.02,289.42 L409.39,288.88 L410.75,288.35 L412.11,287.82 L413.48,287.28 L414.84,286.74 L416.20,286.20 L417.56,285.65 L418.93,285.10 L420.29,284.55 L421.65,284.00 L423.01,283.45 L424.37,282.90 L425.74,282.35 L427.10,281.80 L428.45,281.25 L429.78,280.70 L431.11,280.15 L432.44,279.60 L433.78,279.06 L435.15,278.52 L436.55,278.00 L438.00,277.50 L439.64,276.97 L441.26,276.47 L442.90,276.00 L444.58,275.53 L446.34,275.07 L448.20,274.58 L450.21,274.06 L452.40,273.50 L456.64,272.41 L461.45,271.17 L466.70,269.84 L472.26,268.46 L478.00,267.07 L483.79,265.72 L489.50,264.45 L495.00,263.30 L500.32,262.28 L505.65,261.35 L510.99,260.48 L516.33,259.65 L521.67,258.85 L527.02,258.05 L532.36,257.24 L537.70,256.40" fill="none" stroke="#000000" stroke-width="3.5" stroke-linejoin="round" stroke-linecap="butt" clip-path="url(#cD)"/>
<path d="M322.40,347.20 L322.33,338.00 L322.15,327.53 L321.94,316.55 L321.74,305.82 L321.63,296.11 L321.66,288.18 L321.90,282.79 L322.40,280.70 L322.51,280.72 L322.63,280.84 L322.74,281.03 L322.87,281.28 L323.00,281.57 L323.15,281.88 L323.31,282.20 L323.50,282.50 L323.95,283.16 L324.49,283.92 L325.10,284.78 L325.77,285.69 L326.49,286.64 L327.26,287.61 L328.07,288.57 L328.90,289.50 L330.05,290.70 L331.30,291.93 L332.64,293.19 L334.04,294.46 L335.48,295.72 L336.93,296.96 L338.38,298.16 L339.80,299.30 L341.14,300.34 L342.48,301.34 L343.84,302.31 L345.20,303.26 L346.57,304.19 L347.95,305.10 L349.32,306.00 L350.70,306.90 L352.05,307.77 L353.40,308.63 L354.76,309.48 L356.12,310.31 L357.49,311.13 L358.85,311.94 L360.22,312.73 L361.60,313.50 L362.95,314.24 L364.30,314.96 L365.66,315.66 L367.02,316.35 L368.39,317.03 L369.76,317.69 L371.13,318.35 L372.50,319.00 L373.87,319.63 L375.24,320.25 L376.61,320.86 L377.99,321.46 L379.37,322.05 L380.74,322.64 L382.12,323.22 L383.50,323.80 L384.86,324.37 L386.22,324.95 L387.58,325.52 L388.94,326.08 L390.30,326.64 L391.66,327.18 L393.03,327.70 L394.40,328.20 L395.75,328.67 L397.11,329.13 L398.47,329.58 L399.83,330.01 L401.20,330.42 L402.56,330.83 L403.93,331.22 L405.30,331.60 L406.66,331.96 L408.02,332.31 L409.38,332.65 L410.74,332.97 L412.10,333.29 L413.47,333.60 L414.83,333.90 L416.20,334.20 L417.56,334.50 L418.92,334.79 L420.28,335.07 L421.65,335.35 L423.01,335.62 L424.37,335.89 L425.74,336.15 L427.10,336.40 L428.42,336.64 L429.68,336.87 L430.93,337.09 L432.18,337.31 L433.48,337.53 L434.86,337.74 L436.36,337.97 L438.00,338.20 L441.21,338.62 L444.84,339.05 L448.78,339.50 L452.98,339.96 L457.34,340.42 L461.78,340.88 L466.23,341.34 L470.60,341.80 L475.53,342.32 L480.66,342.87 L485.91,343.43 L491.21,343.99 L496.48,344.53 L501.63,345.04 L506.60,345.50 L511.30,345.90 L514.87,346.17 L518.30,346.41 L521.61,346.61 L524.85,346.79 L528.05,346.97 L531.23,347.14 L534.44,347.31 L537.70,347.50" fill="none" stroke="#4DBEEE" stroke-width="3.8" stroke-linejoin="round" stroke-linecap="butt" clip-path="url(#cD)"/>
<rect x="322.4" y="182.5" width="215.89999999999998" height="197.10000000000002" fill="none" stroke="#000000" stroke-width="1.15"/>
<line x1="365.58" y1="379.6" x2="365.58" y2="377.1" stroke="#000000" stroke-width="1"/>
<line x1="365.58" y1="182.5" x2="365.58" y2="185.0" stroke="#000000" stroke-width="1"/>
<line x1="408.76" y1="379.6" x2="408.76" y2="377.1" stroke="#000000" stroke-width="1"/>
<line x1="408.76" y1="182.5" x2="408.76" y2="185.0" stroke="#000000" stroke-width="1"/>
<line x1="451.94" y1="379.6" x2="451.94" y2="377.1" stroke="#000000" stroke-width="1"/>
<line x1="451.94" y1="182.5" x2="451.94" y2="185.0" stroke="#000000" stroke-width="1"/>
<line x1="495.12" y1="379.6" x2="495.12" y2="377.1" stroke="#000000" stroke-width="1"/>
<line x1="495.12" y1="182.5" x2="495.12" y2="185.0" stroke="#000000" stroke-width="1"/>
<line x1="322.4" y1="346.75" x2="324.9" y2="346.75" stroke="#000000" stroke-width="1"/>
<line x1="538.3" y1="346.75" x2="535.8" y2="346.75" stroke="#000000" stroke-width="1"/>
<line x1="322.4" y1="313.90" x2="324.9" y2="313.90" stroke="#000000" stroke-width="1"/>
<line x1="538.3" y1="313.90" x2="535.8" y2="313.90" stroke="#000000" stroke-width="1"/>
<line x1="322.4" y1="281.05" x2="324.9" y2="281.05" stroke="#000000" stroke-width="1"/>
<line x1="538.3" y1="281.05" x2="535.8" y2="281.05" stroke="#000000" stroke-width="1"/>
<line x1="322.4" y1="248.20" x2="324.9" y2="248.20" stroke="#000000" stroke-width="1"/>
<line x1="538.3" y1="248.20" x2="535.8" y2="248.20" stroke="#000000" stroke-width="1"/>
<line x1="322.4" y1="215.35" x2="324.9" y2="215.35" stroke="#000000" stroke-width="1"/>
<line x1="538.3" y1="215.35" x2="535.8" y2="215.35" stroke="#000000" stroke-width="1"/>
<rect x="322.4" y="348.5" width="193.1" height="31" fill="#fff" stroke="#5a5a5a" stroke-width="0.9"/>
<line x1="325.60" y1="354.30" x2="359.60" y2="354.30" stroke="#0072BD" stroke-width="3.5"/>
<line x1="325.60" y1="364.00" x2="359.60" y2="364.00" stroke="#D95319" stroke-width="3.5" stroke-dasharray="14 14"/>
<line x1="325.60" y1="373.80" x2="359.60" y2="373.80" stroke="#EDB120" stroke-width="3.5" stroke-dasharray="3.4 3.5"/>
<line x1="390.40" y1="354.30" x2="424.00" y2="354.30" stroke="#7E2F8E" stroke-width="3.5" stroke-dasharray="14 4 6.5 4"/>
<line x1="390.40" y1="364.00" x2="424.00" y2="364.00" stroke="#000000" stroke-width="3.7"/>
<line x1="390.40" y1="373.80" x2="424.00" y2="373.80" stroke="#4DBEEE" stroke-width="3.7"/>
<text transform="translate(362.00,357.40) scale(1,0.88)" font-size="9.9" text-anchor="start">PI</text>
<text transform="translate(362.00,367.10) scale(1,0.88)" font-size="9.9" text-anchor="start">FOPI</text>
<text transform="translate(362.00,376.90) scale(1,0.88)" font-size="9.9" text-anchor="start">FPI</text>
<text transform="translate(427.00,357.40) scale(1,0.88)" font-size="9.9" text-anchor="start">FFOPI</text>
<text transform="translate(427.00,367.10) scale(1,0.88)" font-size="9.9" text-anchor="start" textLength="84.6" lengthAdjust="spacingAndGlyphs">VIC based on FFOPI</text>
<text transform="translate(427.00,376.90) scale(1,0.88)" font-size="9.9" text-anchor="start">&#916;PESS2 (P.U)</text>
<rect x="322.4" y="182.5" width="215.89999999999998" height="197.10000000000002" fill="none" stroke="#000000" stroke-width="1.15"/>
<path d="M322.4,348.5 V379.3 H515.5" fill="none" stroke="#fff" stroke-width="1.2"/>
<path d="M322.6,348.5 V379.1 H515.5" fill="none" stroke="#777" stroke-width="0.8"/>
<text transform="translate(317.30,382.90) scale(1.09,1)" font-size="10" text-anchor="end">-0.005</text>
<text transform="translate(317.30,350.05) scale(1.09,1)" font-size="10" text-anchor="end">0</text>
<text transform="translate(317.30,317.20) scale(1.09,1)" font-size="10" text-anchor="end">0.005</text>
<text transform="translate(317.30,284.35) scale(1.09,1)" font-size="10" text-anchor="end">0.01</text>
<text transform="translate(317.30,251.50) scale(1.09,1)" font-size="10" text-anchor="end">0.015</text>
<text transform="translate(317.30,218.65) scale(1.09,1)" font-size="10" text-anchor="end">0.02</text>
<text transform="translate(317.30,185.80) scale(1.09,1)" font-size="10" text-anchor="end">0.025</text>
<text x="322.40" y="392.70" font-size="10" text-anchor="middle" font-weight="normal">0</text>
<text x="365.58" y="392.70" font-size="10" text-anchor="middle" font-weight="normal">2</text>
<text x="408.76" y="392.70" font-size="10" text-anchor="middle" font-weight="normal">4</text>
<text x="451.94" y="392.70" font-size="10" text-anchor="middle" font-weight="normal">6</text>
<text x="495.12" y="392.70" font-size="10" text-anchor="middle" font-weight="normal">8</text>
<text x="538.30" y="392.70" font-size="10" text-anchor="middle" font-weight="normal">10</text>
<text x="433.00" y="401.00" font-size="10.9" text-anchor="middle" font-weight="normal" textLength="69.5" lengthAdjust="spacingAndGlyphs">Time (Seconds)</text>
<text transform="translate(288.0,275.9) rotate(-90)" font-size="10" text-anchor="middle" textLength="57.4" lengthAdjust="spacingAndGlyphs">&#916;P total 2 (P.U)</text>
<text x="275.5" y="175.4" font-size="10.5" text-anchor="middle" style="stroke-width:0.45px" textLength="11.6" lengthAdjust="spacingAndGlyphs">(a)</text>
<text x="275.4" y="414.4" font-size="10.5" text-anchor="middle" style="stroke-width:0.45px" textLength="12.4" lengthAdjust="spacingAndGlyphs">(b)</text>
</g>
</svg>
</body></html>
